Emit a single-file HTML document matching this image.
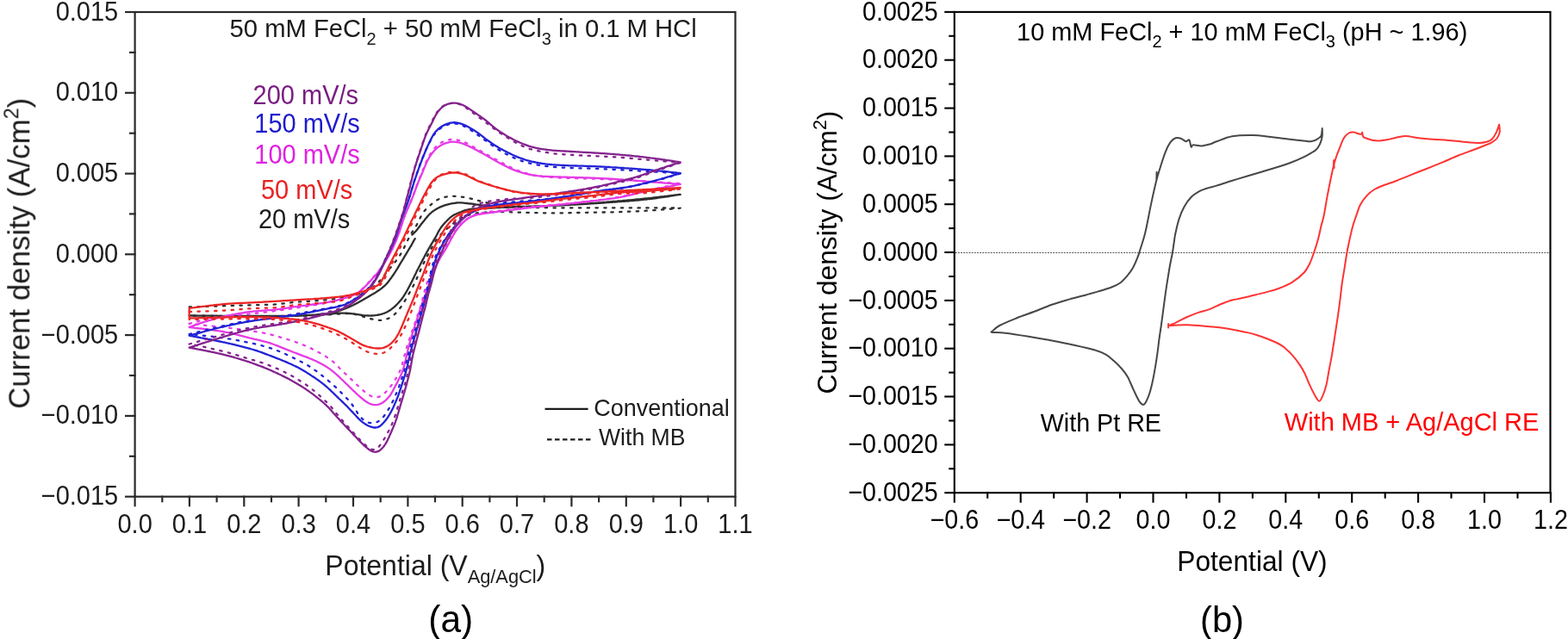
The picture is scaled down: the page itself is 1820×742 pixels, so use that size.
<!DOCTYPE html><html><head><meta charset="utf-8"><title>CV figure</title><style>
html,body{margin:0;padding:0;background:#fff;width:1820px;height:742px;overflow:hidden}
svg{display:block}
text{font-family:'Liberation Sans', Arial, Helvetica, sans-serif;fill:#1a1a1a}
</style></head><body>
<svg width="1820" height="742" viewBox="0 0 1820 742">
<rect width="1820" height="742" fill="#fff"/>
<defs><filter id="fa" filterUnits="userSpaceOnUse" x="0" y="0" width="910" height="742"><feGaussianBlur stdDeviation="0.45"/></filter></defs>
<g filter="url(#fa)">
<g stroke="#2a2a2a" stroke-width="2.2" fill="none" stroke-linecap="square">
<rect x="156.6" y="14.0" width="696.9" height="562.7"/>
<path d="M146.1,14.0H156.6"/>
<path d="M151.1,60.9H156.6"/>
<path d="M146.1,107.8H156.6"/>
<path d="M151.1,154.7H156.6"/>
<path d="M146.1,201.6H156.6"/>
<path d="M151.1,248.4H156.6"/>
<path d="M146.1,295.3H156.6"/>
<path d="M151.1,342.2H156.6"/>
<path d="M146.1,389.1H156.6"/>
<path d="M151.1,436.0H156.6"/>
<path d="M146.1,482.9H156.6"/>
<path d="M151.1,529.8H156.6"/>
<path d="M146.1,576.7H156.6"/>
<path d="M156.6,576.7V587.2"/>
<path d="M188.3,576.7V582.2"/>
<path d="M219.9,576.7V587.2"/>
<path d="M251.6,576.7V582.2"/>
<path d="M283.3,576.7V587.2"/>
<path d="M315.0,576.7V582.2"/>
<path d="M346.6,576.7V587.2"/>
<path d="M378.3,576.7V582.2"/>
<path d="M410.0,576.7V587.2"/>
<path d="M441.7,576.7V582.2"/>
<path d="M473.4,576.7V587.2"/>
<path d="M505.0,576.7V582.2"/>
<path d="M536.7,576.7V587.2"/>
<path d="M568.4,576.7V582.2"/>
<path d="M600.0,576.7V587.2"/>
<path d="M631.7,576.7V582.2"/>
<path d="M663.4,576.7V587.2"/>
<path d="M695.1,576.7V582.2"/>
<path d="M726.8,576.7V587.2"/>
<path d="M758.4,576.7V582.2"/>
<path d="M790.1,576.7V587.2"/>
<path d="M821.8,576.7V582.2"/>
<path d="M853.5,576.7V587.2"/>
</g>
<text transform="translate(137.2,23.5) scale(1,1.05)" font-size="29" text-anchor="end">0.015</text>
<text transform="translate(137.2,117.3) scale(1,1.05)" font-size="29" text-anchor="end">0.010</text>
<text transform="translate(137.2,211.1) scale(1,1.05)" font-size="29" text-anchor="end">0.005</text>
<text transform="translate(137.2,304.8) scale(1,1.05)" font-size="29" text-anchor="end">0.000</text>
<text transform="translate(137.2,398.6) scale(1,1.05)" font-size="29" text-anchor="end">−0.005</text>
<text transform="translate(137.2,492.4) scale(1,1.05)" font-size="29" text-anchor="end">−0.010</text>
<text transform="translate(137.2,586.2) scale(1,1.05)" font-size="29" text-anchor="end">−0.015</text>
<text transform="translate(156.6,619.2) scale(1,1.05)" font-size="29" text-anchor="middle">0.0</text>
<text transform="translate(219.9,619.2) scale(1,1.05)" font-size="29" text-anchor="middle">0.1</text>
<text transform="translate(283.3,619.2) scale(1,1.05)" font-size="29" text-anchor="middle">0.2</text>
<text transform="translate(346.6,619.2) scale(1,1.05)" font-size="29" text-anchor="middle">0.3</text>
<text transform="translate(410,619.2) scale(1,1.05)" font-size="29" text-anchor="middle">0.4</text>
<text transform="translate(473.4,619.2) scale(1,1.05)" font-size="29" text-anchor="middle">0.5</text>
<text transform="translate(536.7,619.2) scale(1,1.05)" font-size="29" text-anchor="middle">0.6</text>
<text transform="translate(600,619.2) scale(1,1.05)" font-size="29" text-anchor="middle">0.7</text>
<text transform="translate(663.4,619.2) scale(1,1.05)" font-size="29" text-anchor="middle">0.8</text>
<text transform="translate(726.8,619.2) scale(1,1.05)" font-size="29" text-anchor="middle">0.9</text>
<text transform="translate(790.1,619.2) scale(1,1.05)" font-size="29" text-anchor="middle">1.0</text>
<text transform="translate(853.5,619.2) scale(1,1.05)" font-size="29" text-anchor="middle">1.1</text>
<text transform="translate(266.6,43.3) scale(1,1.03)" font-size="29.2">50 mM FeCl<tspan font-size="20" dy="8.8">2</tspan><tspan dy="-8.8"> + 50 mM FeCl</tspan><tspan font-size="20" dy="8.8">3</tspan><tspan dy="-8.8"> in 0.1 M HCl</tspan></text>
<text transform="translate(377.3,668.2) scale(1,1.03)" font-size="32">Potential (V<tspan font-size="21.8" dy="8.1">Ag/AgCl</tspan><tspan dy="-8.1">)</tspan></text>
<text transform="translate(523.2,733.8) scale(1,1.03)" font-size="42.5" text-anchor="middle" style="fill:#000">(a)</text>
<text transform="translate(34.3,474.8) rotate(-90)" font-size="34.8">Current density (A/cm<tspan font-size="23.5" dy="-13">2</tspan><tspan dy="13">)</tspan></text>
<text transform="translate(293.6,120.8) scale(1,1.05)" font-size="29" style="fill:#7a1e82">200 mV/s</text>
<text transform="translate(295.3,154) scale(1,1.05)" font-size="29" style="fill:#1a1acd">150 mV/s</text>
<text transform="translate(295.3,190.4) scale(1,1.05)" font-size="29" style="fill:#e020e0">100 mV/s</text>
<text transform="translate(303,230.8) scale(1,1.05)" font-size="29" style="fill:#e82020">50 mV/s</text>
<text transform="translate(299.9,265.3) scale(1,1.05)" font-size="29" style="fill:#1a1a1a">20 mV/s</text>
<path d="M632.5,474.8H682.6" stroke="#1e1e1e" stroke-width="2.2"/>
<path d="M635,510.4H687" stroke="#1e1e1e" stroke-width="2.2" stroke-dasharray="5.5 3.5"/>
<text transform="translate(689.3,483) scale(1,1.03)" font-size="27">Conventional</text>
<text transform="translate(695,517.2) scale(1,1.03)" font-size="26.6">With MB</text>
</g>
<line x1="1108.8" y1="293.5" x2="1799.5" y2="293.5" stroke="#505050" stroke-width="1.1" stroke-dasharray="1.9 1.25"/>
<g stroke="#000" stroke-width="2.1" fill="none" stroke-linecap="square">
<rect x="1107.8" y="13.9" width="691.7" height="558.3"/>
<path d="M1097.3,13.9H1107.8"/>
<path d="M1102.3,41.8H1107.8"/>
<path d="M1097.3,69.7H1107.8"/>
<path d="M1102.3,97.6H1107.8"/>
<path d="M1097.3,125.6H1107.8"/>
<path d="M1102.3,153.5H1107.8"/>
<path d="M1097.3,181.4H1107.8"/>
<path d="M1102.3,209.3H1107.8"/>
<path d="M1097.3,237.2H1107.8"/>
<path d="M1102.3,265.1H1107.8"/>
<path d="M1097.3,293.0H1107.8"/>
<path d="M1102.3,321.0H1107.8"/>
<path d="M1097.3,348.9H1107.8"/>
<path d="M1102.3,376.8H1107.8"/>
<path d="M1097.3,404.7H1107.8"/>
<path d="M1102.3,432.6H1107.8"/>
<path d="M1097.3,460.5H1107.8"/>
<path d="M1102.3,488.5H1107.8"/>
<path d="M1097.3,516.4H1107.8"/>
<path d="M1102.3,544.3H1107.8"/>
<path d="M1097.3,572.2H1107.8"/>
<path d="M1107.8,572.2V582.7"/>
<path d="M1146.2,572.2V577.7"/>
<path d="M1184.7,572.2V582.7"/>
<path d="M1223.2,572.2V577.7"/>
<path d="M1261.6,572.2V582.7"/>
<path d="M1300.0,572.2V577.7"/>
<path d="M1338.5,572.2V582.7"/>
<path d="M1377.0,572.2V577.7"/>
<path d="M1415.4,572.2V582.7"/>
<path d="M1453.9,572.2V577.7"/>
<path d="M1492.3,572.2V582.7"/>
<path d="M1530.8,572.2V577.7"/>
<path d="M1569.2,572.2V582.7"/>
<path d="M1607.7,572.2V577.7"/>
<path d="M1646.1,572.2V582.7"/>
<path d="M1684.5,572.2V577.7"/>
<path d="M1723.0,572.2V582.7"/>
<path d="M1761.5,572.2V577.7"/>
<path d="M1799.9,572.2V582.7"/>
</g>
<text transform="translate(1088.7,23.5) scale(1,1.08)" font-size="28.7" text-anchor="end" style="fill:#000">0.0025</text>
<text transform="translate(1088.7,79.3) scale(1,1.08)" font-size="28.7" text-anchor="end" style="fill:#000">0.0020</text>
<text transform="translate(1088.7,135.2) scale(1,1.08)" font-size="28.7" text-anchor="end" style="fill:#000">0.0015</text>
<text transform="translate(1088.7,191) scale(1,1.08)" font-size="28.7" text-anchor="end" style="fill:#000">0.0010</text>
<text transform="translate(1088.7,246.8) scale(1,1.08)" font-size="28.7" text-anchor="end" style="fill:#000">0.0005</text>
<text transform="translate(1088.7,302.6) scale(1,1.08)" font-size="28.7" text-anchor="end" style="fill:#000">0.0000</text>
<text transform="translate(1088.7,358.5) scale(1,1.08)" font-size="28.7" text-anchor="end" style="fill:#000">−0.0005</text>
<text transform="translate(1088.7,414.3) scale(1,1.08)" font-size="28.7" text-anchor="end" style="fill:#000">−0.0010</text>
<text transform="translate(1088.7,470.1) scale(1,1.08)" font-size="28.7" text-anchor="end" style="fill:#000">−0.0015</text>
<text transform="translate(1088.7,526) scale(1,1.08)" font-size="28.7" text-anchor="end" style="fill:#000">−0.0020</text>
<text transform="translate(1088.7,581.8) scale(1,1.08)" font-size="28.7" text-anchor="end" style="fill:#000">−0.0025</text>
<text transform="translate(1107.8,613.9) scale(1,1.08)" font-size="28.7" text-anchor="middle" style="fill:#000">−0.6</text>
<text transform="translate(1184.7,613.9) scale(1,1.08)" font-size="28.7" text-anchor="middle" style="fill:#000">−0.4</text>
<text transform="translate(1261.6,613.9) scale(1,1.08)" font-size="28.7" text-anchor="middle" style="fill:#000">−0.2</text>
<text transform="translate(1338.5,613.9) scale(1,1.08)" font-size="28.7" text-anchor="middle" style="fill:#000">0.0</text>
<text transform="translate(1415.4,613.9) scale(1,1.08)" font-size="28.7" text-anchor="middle" style="fill:#000">0.2</text>
<text transform="translate(1492.3,613.9) scale(1,1.08)" font-size="28.7" text-anchor="middle" style="fill:#000">0.4</text>
<text transform="translate(1569.2,613.9) scale(1,1.08)" font-size="28.7" text-anchor="middle" style="fill:#000">0.6</text>
<text transform="translate(1646.1,613.9) scale(1,1.08)" font-size="28.7" text-anchor="middle" style="fill:#000">0.8</text>
<text transform="translate(1723,613.9) scale(1,1.08)" font-size="28.7" text-anchor="middle" style="fill:#000">1.0</text>
<text transform="translate(1799.9,613.9) scale(1,1.08)" font-size="28.7" text-anchor="middle" style="fill:#000">1.2</text>
<text transform="translate(1180.1,46.6) scale(1,1.03)" font-size="28.9" style="fill:#000">10 mM FeCl<tspan font-size="20" dy="8.3">2</tspan><tspan dy="-8.3"> + 10 mM FeCl</tspan><tspan font-size="20" dy="8.3">3</tspan><tspan dy="-8.3"> (pH ~ 1.96)</tspan></text>
<text transform="translate(1366.3,663.1) scale(1,1.03)" font-size="31.7" style="fill:#000">Potential (V)</text>
<text transform="translate(1418.5,733.7) scale(1,1.03)" font-size="41.7" text-anchor="middle" style="fill:#000">(b)</text>
<text transform="translate(971.3,457.5) rotate(-90)" font-size="31.7" style="fill:#000">Current density (A/cm<tspan font-size="21.5" dy="-12">2</tspan><tspan dy="12">)</tspan></text>
<text transform="translate(1207.7,501.2) scale(1,1.03)" font-size="28.7" style="fill:#000">With Pt RE</text>
<text transform="translate(1490.8,499.6) scale(1,1.03)" font-size="29" style="fill:#ff0000">With MB + Ag/AgCl RE</text>
<g filter="url(#fa)"><g fill="none" stroke-width="2.3" stroke-linejoin="round" stroke-linecap="round">
<path d="M219.7,366.5L221.7,366.5 223.7,366.5 225.7,366.5 227.7,366.6 229.7,366.6 231.7,366.6 233.7,366.6 235.7,366.6 237.7,366.6 239.7,366.7 241.7,366.7 243.7,366.7 245.7,366.7 247.7,366.7 249.7,366.7 251.7,366.7 253.7,366.8 255.7,366.8 257.7,366.8 259.7,366.8 261.7,366.8 263.7,366.8 265.7,366.8 267.7,366.9 269.8,366.9 271.8,366.9 273.8,366.9 275.8,366.9 277.8,366.9 279.8,367 281.8,367 283.8,367 285.8,367 287.8,367 289.8,367 291.8,367 293.8,367 295.8,367 297.8,367 299.8,367 301.8,367 303.8,367 305.8,367 307.8,367 309.8,367 311.8,367 313.8,367 315.8,367 317.8,367 319.8,366.9 321.8,366.9 323.8,366.9 325.8,366.9 327.8,366.9 329.8,366.9 331.8,366.9 333.8,366.8 335.8,366.8 337.8,366.8 339.8,366.8 341.8,366.7 343.8,366.7 345.8,366.6 347.8,366.6 349.8,366.5 351.8,366.4 353.8,366.3 355.8,366.2 357.8,366.1 359.8,366 361.8,365.9 363.8,365.7 365.8,365.6 367.8,365.4 369.8,365.2 371.8,365 373.8,364.8 375.8,364.5 377.8,364.3 379.7,364 381.7,363.7 383.7,363.3 385.6,362.9 387.6,362.5 389.5,362 391.5,361.5 393.4,360.9 395.3,360.3 397.2,359.7 399.1,359 400.9,358.3 402.8,357.5 404.6,356.7 406.4,355.9 408.3,355 410.1,354.2 411.9,353.3 413.6,352.4 415.4,351.5 417.2,350.5 418.9,349.6 420.7,348.6 422.4,347.6 424.1,346.6 425.9,345.6 427.6,344.5 429.3,343.5 431,342.5 432.7,341.4 434.5,340.4 436.2,339.4 437.9,338.3 439.5,337.2 441.2,336.1 442.8,334.9 444.3,333.6 445.8,332.3 447.3,331 448.7,329.5 450,328 451.2,326.5 452.4,324.9 453.6,323.3 454.8,321.6 455.9,320 457.1,318.3 458.2,316.7 459.2,315 460.3,313.3 461.4,311.6 462.4,309.9 463.4,308.2 464.4,306.4 465.5,304.7 466.5,303 467.5,301.3 468.6,299.6 469.6,297.8 470.6,296.1 471.7,294.4 472.7,292.7 473.7,291 474.7,289.3 475.8,287.5 476.8,285.8 477.8,284.1 478.8,282.3 479.7,280.6 480.7,278.8 481.7,277.1 M478.3,272.6L479.8,271.3 481.2,269.9 482.6,268.5 483.9,267 485.1,265.4 486.3,263.8 487.5,262.2 488.7,260.6 490,259 491.2,257.5 492.5,255.9 493.7,254.3 495,252.8 496.3,251.3 497.6,249.8 499,248.3 500.5,247 502,245.7 503.6,244.6 505.3,243.5 507,242.5 508.8,241.5 510.6,240.6 512.4,239.8 514.3,239.1 516.2,238.4 518.1,237.8 520,237.3 522,236.8 523.9,236.4 525.9,236.1 527.9,235.8 529.9,235.5 531.8,235.4 533.8,235.4 535.8,235.4 537.8,235.6 539.8,235.8 541.8,236 543.8,236.3 545.8,236.5 547.8,236.7 549.8,237 551.7,237.3 553.7,237.6 555.7,237.9 557.7,238.2 559.7,238.4 561.7,238.6 563.7,238.8 565.7,238.9 567.7,239 569.7,239.1 571.7,239.2 573.7,239.3 575.7,239.3 577.7,239.4 579.7,239.5 581.7,239.6 583.7,239.7 585.7,239.8 587.7,239.8 589.7,239.9 591.7,240 593.7,240 595.7,240 597.7,240 599.7,240 601.8,240 603.8,239.9 605.8,239.9 607.8,239.9 609.8,239.8 611.8,239.8 613.8,239.7 615.8,239.7 617.8,239.6 619.8,239.6 621.8,239.5 623.8,239.5 625.8,239.4 627.8,239.4 629.8,239.3 631.8,239.2 633.8,239.2 635.8,239.1 637.9,239 639.9,238.9 641.9,238.9 643.9,238.8 645.9,238.7 647.9,238.6 649.9,238.5 651.9,238.4 653.9,238.3 655.9,238.2 657.9,238.1 659.9,237.9 661.9,237.8 663.9,237.7 665.9,237.6 667.9,237.4 669.9,237.3 671.9,237.2 673.9,237 675.9,236.9 677.9,236.7 679.9,236.6 681.9,236.4 683.9,236.3 685.9,236.1 687.9,236 689.9,235.8 691.9,235.6 693.9,235.5 695.9,235.3 697.9,235.2 699.9,235 701.9,234.8 703.9,234.7 705.9,234.5 707.9,234.4 709.9,234.2 711.9,234 713.9,233.8 715.9,233.7 717.9,233.5 719.9,233.3 721.9,233.2 723.9,233 725.9,232.8 727.9,232.6 729.9,232.4 731.9,232.3 733.9,232.1 735.9,231.9 737.9,231.7 739.9,231.5 741.9,231.3 743.9,231.1 745.9,230.9 747.9,230.7 749.9,230.5 751.9,230.3 753.8,230.1 755.8,229.9 757.8,229.6 759.8,229.4 761.8,229.2 763.8,229 765.8,228.7 767.8,228.5 769.8,228.3 771.8,228 773.8,227.8 775.8,227.5 777.8,227.3 779.7,227 781.7,226.8 783.7,226.5 785.7,226.3 787.7,226 789.7,225.8 L787.7,226.1 785.7,226.4 783.8,226.7 781.8,227 779.8,227.3 777.8,227.6 775.9,228 773.9,228.3 771.9,228.6 769.9,228.9 767.9,229.1 766,229.4 764,229.7 762,230 760,230.3 758,230.5 756,230.8 754,231 752.1,231.2 750.1,231.5 748.1,231.7 746.1,231.9 744.1,232.1 742.1,232.3 740.1,232.5 738.1,232.6 736.1,232.8 734.1,233 732.1,233.1 730.1,233.3 728.1,233.5 726.1,233.6 724.2,233.8 722.2,233.9 720.2,234.1 718.2,234.2 716.2,234.4 714.2,234.5 712.2,234.6 710.2,234.8 708.2,234.9 706.2,235.1 704.2,235.2 702.2,235.3 700.2,235.5 698.2,235.6 696.2,235.8 694.2,235.9 692.2,236 690.2,236.2 688.2,236.3 686.2,236.4 684.2,236.5 682.2,236.7 680.2,236.8 678.2,236.9 676.2,237 674.2,237.2 672.2,237.3 670.2,237.4 668.2,237.5 666.2,237.6 664.2,237.7 662.2,237.8 660.2,238 658.2,238.1 656.2,238.2 654.2,238.3 652.2,238.4 650.2,238.5 648.2,238.6 646.2,238.7 644.2,238.7 642.2,238.8 640.2,238.9 638.2,239 636.2,239 634.2,239.1 632.2,239.1 630.2,239.2 628.2,239.3 626.2,239.3 624.2,239.4 622.2,239.4 620.2,239.5 618.2,239.6 616.2,239.7 614.2,239.8 612.2,239.9 610.2,240 608.2,240.1 606.2,240.2 604.2,240.3 602.2,240.4 600.2,240.5 598.2,240.5 596.2,240.6 594.2,240.7 592.2,240.7 590.2,240.7 588.2,240.8 586.2,240.8 584.2,240.9 582.2,240.9 580.2,241 578.2,241.1 576.2,241.2 574.2,241.3 572.2,241.4 570.2,241.5 568.2,241.6 566.2,241.7 564.2,241.8 562.2,241.9 560.2,242 558.2,242.1 556.2,242.1 554.2,242.2 552.2,242.3 550.2,242.4 548.2,242.6 546.3,242.9 544.3,243.2 542.4,243.6 540.4,244.1 538.5,244.7 536.7,245.4 534.8,246.2 533,246.9 531.1,247.7 529.3,248.5 527.5,249.3 525.8,250.3 524.2,251.4 522.6,252.6 521.1,254 519.7,255.3 518.3,256.8 516.9,258.2 515.5,259.7 514.2,261.2 513,262.7 511.8,264.3 510.7,266 509.7,267.7 508.7,269.4 507.8,271.2 506.9,273 505.9,274.8 504.9,276.5 503.9,278.2 502.9,279.9 501.9,281.7 500.8,283.4 499.8,285.1 498.8,286.8 497.8,288.5 496.8,290.3 495.8,292 494.9,293.8 493.9,295.6 493,297.3 492.1,299.1 491.1,300.9 490.2,302.6 489.3,304.4 488.3,306.2 487.4,308 486.5,309.7 485.6,311.5 484.6,313.3 483.7,315.1 482.9,316.9 482,318.7 481.1,320.5 480.3,322.3 479.4,324.1 478.5,325.9 477.6,327.7 476.7,329.5 475.8,331.3 474.9,333 473.9,334.8 473,336.5 472,338.3 471,340 470,341.7 468.9,343.4 467.8,345.1 466.6,346.7 465.4,348.3 464.1,349.8 462.8,351.3 461.4,352.8 460,354.2 458.6,355.6 457.1,356.9 455.5,358.2 454,359.4 452.3,360.5 450.6,361.6 448.9,362.5 447.1,363.3 445.2,364 443.3,364.6 441.4,365.1 439.4,365.5 437.5,365.9 435.5,366.2 433.5,366.4 431.5,366.5 429.5,366.6 427.5,366.5 425.5,366.4 423.5,366.3 421.6,366.1 419.6,365.8 417.6,365.5 415.6,365.2 413.7,364.8 411.7,364.6 409.7,364.3 407.7,364.1 405.7,364 403.7,363.9 401.7,363.7 399.7,363.7 397.7,363.6 395.7,363.6 393.7,363.6 391.7,363.7 389.7,363.8 387.7,364 385.8,364.3 383.8,364.5 381.8,364.8 379.8,365 377.8,365.1 375.8,365.3 373.8,365.4 371.8,365.5 369.8,365.7 367.8,365.8 365.8,365.9 363.8,366 361.8,366.1 359.8,366.2 357.8,366.2 355.8,366.3 353.8,366.4 351.8,366.4 349.8,366.5 347.8,366.5 345.8,366.6 343.8,366.6 341.8,366.7 339.8,366.7 337.8,366.7 335.8,366.7 333.8,366.8 331.8,366.8 329.8,366.8 327.8,366.8 325.8,366.9 323.8,366.9 321.8,366.9 319.8,366.9 317.8,366.9 315.8,366.9 313.8,366.9 311.8,366.9 309.8,367 307.8,367 305.8,367 303.8,367 301.8,367 299.8,367 297.8,367 295.8,367 293.8,367 291.8,367 289.8,367 287.8,367 285.8,367 283.8,367 281.8,367 279.8,367 277.8,366.9 275.7,366.9 273.7,366.9 271.7,366.9 269.7,366.9 267.7,366.9 265.7,366.8 263.7,366.8 261.7,366.8 259.7,366.8 257.7,366.8 255.7,366.8 253.7,366.8 251.7,366.7 249.7,366.7 247.7,366.7 245.7,366.7 243.7,366.7 241.7,366.7 239.7,366.7 237.7,366.6 235.7,366.6 233.7,366.6 231.7,366.6 229.7,366.6 227.7,366.6 225.7,366.5 223.7,366.5 221.7,366.5 219.7,366.5" stroke="#2e2e2e"/>
<path d="M219.7,356.5L221.7,356.4 223.7,356.4 225.7,356.3 227.7,356.2 229.7,356.2 231.7,356.1 233.7,356 235.7,356 237.7,355.9 239.7,355.8 241.7,355.8 243.7,355.7 245.7,355.7 247.7,355.6 249.7,355.5 251.7,355.5 253.7,355.4 255.7,355.3 257.7,355.3 259.7,355.2 261.7,355.1 263.7,355.1 265.7,355 267.7,355 269.7,354.9 271.7,354.8 273.7,354.8 275.7,354.7 277.8,354.7 279.8,354.6 281.8,354.5 283.8,354.5 285.8,354.4 287.8,354.4 289.8,354.3 291.8,354.3 293.8,354.2 295.8,354.2 297.8,354.1 299.8,354.1 301.8,354.1 303.8,354 305.8,354 307.8,353.9 309.8,353.9 311.8,353.8 313.8,353.8 315.8,353.7 317.8,353.6 319.8,353.4 321.8,353.3 323.8,353.1 325.8,352.9 327.7,352.6 329.7,352.3 331.7,352 333.7,351.8 335.7,351.5 337.7,351.3 339.7,351.1 341.7,350.9 343.7,350.7 345.6,350.6 347.6,350.4 349.6,350.3 351.6,350.2 353.6,350.1 355.6,349.9 357.6,349.8 359.6,349.7 361.6,349.6 363.6,349.4 365.6,349.3 367.6,349.2 369.6,349 371.6,348.9 373.6,348.7 375.6,348.5 377.6,348.3 379.6,348.1 381.6,347.9 383.6,347.6 385.6,347.4 387.5,347.1 389.5,346.8 391.5,346.5 393.5,346.2 395.5,345.8 397.4,345.5 399.4,345.1 401.4,344.8 403.3,344.4 405.3,344 407.3,343.6 409.2,343.1 411.2,342.7 413.1,342.2 415,341.6 416.9,341 418.8,340.4 420.7,339.7 422.6,339 424.4,338.2 426.2,337.3 428,336.4 429.7,335.5 431.4,334.4 433.1,333.3 434.7,332.1 436.2,330.8 437.7,329.5 439.1,328.1 440.4,326.6 441.7,325.1 443,323.5 444.3,322 445.6,320.4 446.8,318.9 448,317.3 449.3,315.7 450.5,314.2 451.8,312.6 453,311 454.3,309.5 455.6,307.9 456.8,306.4 458.1,304.8 459.4,303.3 460.6,301.7 461.8,300.1 462.9,298.4 464,296.8 465,295.1 466,293.3 467,291.6 467.9,289.8 468.8,288 469.7,286.2 470.6,284.4 471.4,282.6 472.3,280.8 473.2,279 474.1,277.2 475,275.4 475.9,273.7 476.9,271.9 478,270.2 479,268.5 480.1,266.9 481.2,265.2 482.3,263.5 483.3,261.8 484.3,260 485.3,258.3 486.1,256.5 487,254.7 487.8,252.9 488.7,251.1 489.7,249.3 490.7,247.6 491.8,246 493.1,244.4 494.4,243 495.8,241.6 497.3,240.2 498.8,238.9 500.3,237.6 501.8,236.3 503.3,235 504.9,233.8 506.6,232.7 508.3,231.7 510.1,230.9 511.9,230.2 513.8,229.6 515.8,229.1 517.7,228.6 519.7,228.3 521.7,228 523.6,227.8 525.6,227.8 527.6,227.8 529.6,227.9 531.6,228.1 533.6,228.3 535.6,228.5 537.6,228.8 539.5,229.1 541.5,229.4 543.5,229.8 545.4,230.3 547.4,230.8 549.3,231.3 551.2,231.8 553.2,232.4 555.1,232.9 557,233.4 559,233.9 560.9,234.4 562.8,234.9 564.8,235.3 566.8,235.8 568.7,236.2 570.7,236.6 572.6,237 574.6,237.4 576.6,237.7 578.5,238 580.5,238.3 582.5,238.6 584.5,238.9 586.5,239.1 588.5,239.3 590.5,239.5 592.5,239.7 594.5,239.8 596.5,240 598.5,240.1 600.5,240.2 602.5,240.3 604.5,240.4 606.5,240.5 608.5,240.6 610.5,240.7 612.5,240.8 614.5,240.8 616.5,240.9 618.5,241 620.5,241 622.5,241 624.5,241.1 626.5,241.1 628.5,241.1 630.5,241.2 632.5,241.2 634.5,241.2 636.5,241.2 638.5,241.2 640.5,241.3 642.5,241.3 644.5,241.3 646.5,241.3 648.5,241.3 650.5,241.3 652.5,241.3 654.5,241.3 656.5,241.3 658.5,241.3 660.5,241.3 662.5,241.3 664.5,241.3 666.5,241.3 668.5,241.3 670.5,241.3 672.5,241.3 674.5,241.3 676.5,241.3 678.5,241.3 680.5,241.3 682.6,241.3 684.6,241.3 686.6,241.3 688.6,241.3 690.6,241.3 692.6,241.3 694.6,241.3 696.6,241.3 698.6,241.3 700.6,241.3 702.6,241.3 704.6,241.3 706.6,241.3 708.6,241.3 710.6,241.3 712.6,241.3 714.6,241.3 716.6,241.3 718.6,241.3 720.6,241.3 722.6,241.3 724.6,241.3 726.6,241.3 728.6,241.3 730.6,241.3 732.6,241.3 734.6,241.3 736.6,241.4 738.6,241.4 740.6,241.4 742.6,241.4 744.6,241.4 746.6,241.4 748.6,241.4 750.6,241.4 752.6,241.4 754.7,241.4 756.7,241.4 758.7,241.4 760.7,241.4 762.7,241.4 764.7,241.4 766.7,241.4 768.7,241.5 770.7,241.5 772.7,241.5 774.7,241.5 776.7,241.5 778.7,241.5 780.7,241.5 782.7,241.5 784.7,241.6 786.7,241.6 788.7,241.6 789.7,241.6 L787.7,241.8 785.7,241.9 783.7,242.1 781.7,242.3 779.7,242.5 777.7,242.7 775.7,242.8 773.7,243 771.8,243.2 769.8,243.3 767.8,243.5 765.8,243.7 763.8,243.8 761.8,244 759.8,244.1 757.8,244.2 755.8,244.4 753.8,244.5 751.8,244.6 749.8,244.7 747.8,244.9 745.8,245 743.8,245.1 741.8,245.2 739.8,245.3 737.8,245.4 735.8,245.5 733.8,245.6 731.8,245.6 729.8,245.7 727.8,245.8 725.8,245.9 723.8,246 721.8,246 719.8,246.1 717.8,246.2 715.8,246.2 713.8,246.3 711.8,246.3 709.8,246.4 707.8,246.4 705.8,246.4 703.8,246.5 701.8,246.5 699.8,246.5 697.8,246.5 695.8,246.6 693.8,246.6 691.8,246.6 689.8,246.7 687.8,246.7 685.8,246.7 683.8,246.7 681.8,246.8 679.8,246.8 677.8,246.8 675.8,246.9 673.8,246.9 671.8,247 669.8,247 667.8,247.1 665.8,247.1 663.8,247.2 661.8,247.2 659.8,247.3 657.8,247.3 655.8,247.3 653.8,247.4 651.8,247.4 649.8,247.4 647.8,247.4 645.8,247.4 643.8,247.4 641.8,247.4 639.8,247.4 637.8,247.4 635.8,247.3 633.8,247.3 631.8,247.3 629.8,247.3 627.8,247.2 625.8,247.2 623.8,247.2 621.8,247.1 619.8,247.1 617.8,247 615.8,247 613.8,246.9 611.8,246.9 609.7,246.8 607.7,246.8 605.7,246.7 603.7,246.6 601.7,246.6 599.7,246.5 597.7,246.4 595.7,246.4 593.7,246.3 591.7,246.2 589.7,246.2 587.7,246.1 585.7,246.1 583.7,246 581.7,246 579.7,246 577.7,246.1 575.7,246.1 573.7,246.2 571.7,246.2 569.7,246.3 567.7,246.4 565.7,246.5 563.7,246.6 561.7,246.7 559.8,246.9 557.8,247 555.8,247.2 553.8,247.5 551.8,247.8 549.9,248.2 547.9,248.6 546,249.2 544.1,249.7 542.2,250.4 540.3,251.1 538.5,251.9 536.7,252.7 534.9,253.6 533.1,254.6 531.4,255.6 529.8,256.7 528.2,257.9 526.6,259.1 525,260.4 523.5,261.6 521.9,262.9 520.4,264.2 518.9,265.5 517.4,266.8 515.9,268.2 514.4,269.5 513,270.9 511.5,272.3 510.2,273.8 508.9,275.3 507.7,276.8 506.5,278.5 505.4,280.1 504.4,281.9 503.4,283.6 502.4,285.3 501.5,287.1 500.5,288.8 499.5,290.6 498.6,292.3 497.6,294.1 496.7,295.9 495.7,297.6 494.8,299.4 493.9,301.2 493.1,303 492.2,304.8 491.4,306.6 490.5,308.4 489.7,310.3 488.8,312.1 488,313.9 487.2,315.7 486.4,317.6 485.5,319.4 484.7,321.2 483.9,323 483.1,324.9 482.2,326.7 481.4,328.5 480.5,330.3 479.6,332.1 478.7,333.8 477.7,335.6 476.8,337.3 475.8,339.1 474.8,340.8 473.8,342.6 472.8,344.3 471.8,346.1 470.8,347.8 469.8,349.5 468.8,351.2 467.7,352.9 466.6,354.6 465.5,356.2 464.3,357.8 463,359.4 461.8,360.9 460.5,362.5 459.1,363.9 457.7,365.3 456.3,366.6 454.7,367.7 453,368.7 451.2,369.6 449.3,370.3 447.5,370.9 445.5,371.4 443.6,371.7 441.6,371.9 439.7,371.8 437.7,371.7 435.7,371.4 433.8,371 431.8,370.5 429.9,370.1 427.9,369.5 426,369 424.1,368.4 422.2,367.8 420.3,367.2 418.4,366.6 416.5,366 414.5,365.5 412.6,365 410.7,364.6 408.7,364.3 406.7,364.1 404.7,364 402.7,364 400.7,364.1 398.7,364.2 396.7,364.3 394.8,364.5 392.8,364.6 390.8,364.8 388.8,364.9 386.8,365.1 384.8,365.2 382.8,365.3 380.8,365.4 378.8,365.6 376.8,365.7 374.8,365.8 372.8,365.9 370.8,366 368.8,366.1 366.8,366.2 364.8,366.3 362.8,366.4 360.8,366.5 358.8,366.5 356.8,366.6 354.8,366.7 352.8,366.7 350.8,366.8 348.8,366.8 346.8,366.9 344.8,366.9 342.8,366.9 340.8,366.9 338.8,367 336.8,367 334.8,367 332.8,367 330.8,367.1 328.8,367.1 326.8,367.1 324.8,367.1 322.8,367.1 320.8,367.1 318.8,367.1 316.8,367.1 314.8,367.2 312.8,367.2 310.8,367.2 308.8,367.2 306.8,367.2 304.8,367.2 302.8,367.2 300.8,367.2 298.8,367.2 296.8,367.2 294.7,367.2 292.7,367.2 290.7,367.2 288.7,367.2 286.7,367.2 284.7,367.2 282.7,367.2 280.7,367.2 278.7,367.1 276.7,367.1 274.7,367.1 272.7,367.1 270.7,367.1 268.7,367.1 266.7,367.1 264.7,367 262.7,367 260.7,367 258.7,367 256.7,367 254.7,366.9 252.7,366.9 250.7,366.9 248.7,366.9 246.7,366.9 244.7,366.8 242.7,366.8 240.7,366.8 238.7,366.8 236.7,366.7 234.7,366.7 232.7,366.7 230.7,366.6 228.7,366.6 226.7,366.6 224.7,366.6 222.7,366.5 220.7,366.5 219.7,366.5" stroke="#2e2e2e" stroke-dasharray="2.4 7.4"/>
<path d="M219.7,380L221.6,379.3 223.4,378.6 225.3,377.9 227.2,377.2 229.1,376.5 231,375.9 232.9,375.2 234.8,374.6 236.7,374 238.6,373.4 240.5,372.8 242.4,372.2 244.3,371.7 246.3,371.1 248.2,370.6 250.1,370 252,369.5 254,369 255.9,368.5 257.9,368 259.8,367.6 261.8,367.1 263.7,366.7 265.7,366.3 267.6,365.9 269.6,365.5 271.6,365.1 273.5,364.7 275.5,364.3 277.5,364 279.4,363.6 281.4,363.3 283.4,363 285.4,362.7 287.3,362.4 289.3,362.1 291.3,361.9 293.3,361.7 295.3,361.4 297.3,361.3 299.3,361.1 301.3,360.9 303.3,360.8 305.3,360.6 307.3,360.5 309.3,360.4 311.3,360.2 313.3,360.1 315.2,359.9 317.2,359.7 319.2,359.5 321.2,359.3 323.2,359.1 325.2,358.8 327.2,358.5 329.2,358.3 331.1,358 333.1,357.7 335.1,357.3 337.1,357 339,356.7 341,356.4 343,356.1 345,355.9 347,355.6 349,355.3 350.9,355.1 352.9,354.8 354.9,354.6 356.9,354.3 358.9,354 360.9,353.8 362.9,353.5 364.8,353.3 366.8,353 368.8,352.7 370.8,352.4 372.8,352.1 374.7,351.8 376.7,351.5 378.7,351.2 380.7,350.8 382.6,350.5 384.6,350.1 386.5,349.7 388.5,349.2 390.5,348.8 392.4,348.3 394.3,347.8 396.3,347.3 398.2,346.8 400.1,346.2 402,345.6 404,345 405.8,344.4 407.7,343.7 409.6,343 411.4,342.2 413.2,341.2 414.9,340.2 416.5,339.1 418.1,337.9 419.7,336.7 421.1,335.3 422.6,334 424,332.5 425.4,331.1 426.8,329.7 428.1,328.2 429.4,326.7 430.8,325.2 432.1,323.7 433.4,322.2 434.8,320.7 436.1,319.2 437.5,317.7 438.8,316.2 440,314.7 441.2,313.1 442.4,311.5 443.5,309.8 444.6,308.1 445.6,306.4 446.7,304.7 447.7,303 448.7,301.3 449.7,299.6 450.7,297.8 451.7,296.1 452.7,294.3 453.6,292.6 454.5,290.8 455.4,289 456.3,287.2 457.1,285.3 457.9,283.5 458.7,281.7 459.5,279.8 460.3,278 461,276.1 461.7,274.3 462.4,272.4 463.1,270.5 463.8,268.6 464.4,266.7 465,264.8 465.7,262.9 466.3,261 466.9,259.1 467.5,257.2 468.2,255.3 468.8,253.4 469.5,251.5 470.2,249.7 470.9,247.8 471.7,246 472.5,244.1 473.3,242.3 474.1,240.5 474.9,238.6 475.7,236.8 476.5,235 477.3,233.1 478,231.3 478.8,229.4 479.5,227.5 480.2,225.7 480.9,223.8 481.6,221.9 482.3,220 483,218.2 483.7,216.3 484.4,214.4 485.1,212.5 485.8,210.7 486.6,208.8 487.4,207 488.2,205.2 489,203.3 489.8,201.5 490.6,199.6 491.3,197.8 492.1,195.9 492.8,194.1 493.6,192.2 494.4,190.4 495.2,188.6 496.1,186.8 497,185 498,183.3 499.1,181.6 500.2,179.9 501.3,178.3 502.5,176.7 503.8,175.2 505.2,173.8 506.7,172.4 508.2,171.2 509.8,170 511.5,169 513.2,168 515,167.1 516.9,166.4 518.8,165.8 520.7,165.3 522.6,164.9 524.6,164.7 526.6,164.7 528.6,164.8 530.5,165 532.5,165.4 534.4,165.9 536.3,166.5 538.2,167.1 540,167.9 541.9,168.7 543.7,169.5 545.5,170.4 547.3,171.3 549.1,172.2 550.8,173.1 552.6,174 554.4,174.9 556.1,175.9 557.9,176.9 559.7,177.8 561.4,178.8 563.1,179.8 564.9,180.8 566.6,181.8 568.3,182.8 570.1,183.8 571.8,184.8 573.6,185.8 575.3,186.8 577,187.7 578.8,188.7 580.6,189.7 582.3,190.6 584.1,191.5 585.9,192.4 587.7,193.3 589.5,194.2 591.3,195.1 593.1,195.9 594.9,196.7 596.8,197.4 598.6,198.2 600.5,198.8 602.4,199.4 604.3,200 606.3,200.6 608.2,201.1 610.1,201.6 612.1,202.1 614,202.5 616,202.9 618,203.3 619.9,203.6 621.9,203.9 623.9,204.2 625.9,204.4 627.9,204.5 629.9,204.7 631.9,204.8 633.9,204.9 635.9,205 637.9,205.1 639.9,205.1 641.9,205.2 643.9,205.3 645.9,205.4 647.9,205.4 649.9,205.5 651.9,205.6 653.9,205.6 655.9,205.7 657.9,205.7 659.9,205.8 661.9,205.8 663.9,205.9 665.9,205.9 667.9,206 669.9,206.1 671.9,206.1 673.9,206.2 675.9,206.2 677.9,206.3 679.9,206.4 681.9,206.4 683.9,206.5 685.9,206.6 687.9,206.7 689.9,206.7 691.9,206.8 693.9,206.9 695.9,207 697.9,207.1 699.9,207.2 701.9,207.3 703.9,207.4 705.9,207.5 707.9,207.6 709.9,207.7 711.9,207.9 713.9,208 715.9,208.1 717.9,208.3 719.9,208.4 721.9,208.5 723.9,208.7 725.8,208.8 727.8,209 729.8,209.1 731.8,209.3 733.8,209.4 735.8,209.6 737.8,209.7 739.8,209.9 741.8,210.1 743.8,210.2 745.8,210.4 747.8,210.5 749.8,210.7 751.8,210.8 753.8,211 755.8,211.2 757.8,211.3 759.8,211.5 761.8,211.6 763.8,211.8 765.8,212 767.8,212.1 769.7,212.3 771.7,212.5 773.7,212.6 775.7,212.8 777.7,212.9 779.7,213.1 781.7,213.3 783.7,213.4 785.7,213.6 787.7,213.7 789.7,213.9 L787.7,214.3 785.8,214.7 783.8,215.1 781.9,215.5 779.9,215.9 777.9,216.3 776,216.7 774,217.1 772,217.4 770.1,217.8 768.1,218.2 766.2,218.6 764.2,219 762.2,219.4 760.3,219.8 758.3,220.2 756.4,220.7 754.4,221.1 752.5,221.5 750.5,221.9 748.5,222.3 746.6,222.8 744.6,223.2 742.7,223.7 740.8,224.2 738.8,224.7 736.9,225.1 734.9,225.6 733,226.1 731,226.6 729.1,227 727.2,227.5 725.2,227.9 723.2,228.3 721.3,228.7 719.3,229.1 717.3,229.4 715.4,229.7 713.4,230.1 711.4,230.3 709.4,230.6 707.5,230.9 705.5,231.1 703.5,231.4 701.5,231.6 699.5,231.9 697.5,232.1 695.5,232.3 693.6,232.6 691.6,232.8 689.6,233.1 687.6,233.3 685.6,233.5 683.6,233.8 681.6,234 679.6,234.3 677.7,234.5 675.7,234.7 673.7,235 671.7,235.2 669.7,235.4 667.7,235.6 665.7,235.9 663.7,236.1 661.8,236.3 659.8,236.5 657.8,236.7 655.8,236.9 653.8,237.1 651.8,237.3 649.8,237.5 647.8,237.7 645.8,237.9 643.9,238.1 641.9,238.3 639.9,238.5 637.9,238.7 635.9,238.9 633.9,239.1 631.9,239.3 629.9,239.5 627.9,239.7 625.9,239.9 623.9,240.1 622,240.3 620,240.5 618,240.7 616,241 614,241.2 612,241.5 610,241.7 608.1,242 606.1,242.2 604.1,242.5 602.1,242.7 600.1,243 598.1,243.2 596.1,243.5 594.2,243.7 592.2,244 590.2,244.2 588.2,244.5 586.2,244.7 584.2,245 582.2,245.2 580.3,245.5 578.3,245.7 576.3,246 574.3,246.2 572.3,246.5 570.3,246.8 568.4,247 566.4,247.3 564.4,247.6 562.4,247.9 560.4,248.1 558.5,248.5 556.5,248.8 554.5,249.2 552.6,249.7 550.7,250.3 548.8,250.9 547,251.7 545.2,252.6 543.5,253.6 541.9,254.7 540.3,255.9 538.8,257.2 537.3,258.6 535.9,259.9 534.5,261.4 533.2,262.9 531.9,264.4 530.7,266 529.5,267.6 528.4,269.3 527.4,271 526.4,272.7 525.4,274.5 524.4,276.2 523.4,278 522.5,279.7 521.5,281.5 520.6,283.3 519.7,285 518.7,286.8 517.7,288.5 516.7,290.2 515.7,291.9 514.6,293.6 513.5,295.3 512.4,297 511.4,298.7 510.4,300.4 509.5,302.2 508.5,304 507.7,305.8 506.8,307.6 506,309.4 505.2,311.2 504.4,313 503.6,314.9 502.8,316.7 502.1,318.6 501.4,320.5 500.7,322.4 500,324.2 499.4,326.1 498.7,328 498,329.9 497.4,331.8 496.7,333.7 496.1,335.6 495.4,337.5 494.8,339.3 494.1,341.2 493.4,343.1 492.7,345 492,346.9 491.3,348.7 490.6,350.6 489.9,352.5 489.3,354.4 488.6,356.3 488,358.2 487.4,360.1 486.8,362 486.2,363.9 485.6,365.8 485,367.7 484.4,369.6 483.8,371.5 483.2,373.4 482.5,375.3 481.9,377.2 481.3,379.1 480.7,381 480.1,382.9 479.5,384.8 478.9,386.8 478.3,388.7 477.7,390.6 477.2,392.5 476.6,394.4 476.1,396.3 475.5,398.3 475,400.2 474.5,402.1 474,404.1 473.5,406 473.1,408 472.6,409.9 472.2,411.9 471.8,413.8 471.3,415.8 470.9,417.7 470.4,419.7 469.9,421.6 469.4,423.6 468.9,425.5 468.4,427.4 467.8,429.3 467.1,431.2 466.4,433.1 465.6,434.9 464.8,436.7 463.9,438.5 463,440.3 462.1,442.1 461.2,443.9 460.3,445.6 459.3,447.4 458.4,449.2 457.4,450.9 456.5,452.7 455.6,454.5 454.6,456.2 453.6,457.9 452.5,459.5 451.2,461.1 449.9,462.6 448.5,464 447,465.3 445.5,466.5 443.8,467.7 442.1,468.6 440.4,469.4 438.5,469.9 436.6,470.2 434.7,470.2 432.8,469.9 430.9,469.4 429.1,468.7 427.3,467.8 425.6,466.8 424,465.7 422.4,464.5 420.8,463.2 419.3,462 417.7,460.7 416.3,459.3 414.8,458 413.3,456.6 411.9,455.2 410.4,453.8 409,452.5 407.6,451.1 406.1,449.7 404.7,448.3 403.3,446.9 401.8,445.5 400.4,444.1 398.9,442.7 397.5,441.3 396,440 394.6,438.6 393.1,437.2 391.6,435.9 390.2,434.5 388.7,433.2 387.1,431.9 385.6,430.6 384,429.4 382.4,428.2 380.8,427.1 379.1,426 377.4,425 375.7,423.9 373.9,423 372.2,422 370.4,421.1 368.6,420.2 366.8,419.3 365,418.5 363.2,417.7 361.3,416.9 359.5,416.2 357.6,415.4 355.7,414.7 353.9,414 352,413.3 350.1,412.6 348.3,411.9 346.4,411.1 344.5,410.4 342.7,409.7 340.8,409 338.9,408.3 337.1,407.5 335.2,406.8 333.3,406.1 331.5,405.3 329.6,404.6 327.8,403.9 325.9,403.1 324,402.4 322.2,401.6 320.3,400.9 318.5,400.2 316.6,399.5 314.7,398.9 312.8,398.2 310.9,397.7 309,397.1 307,396.6 305.1,396.1 303.1,395.6 301.2,395.1 299.3,394.7 297.3,394.2 295.4,393.8 293.4,393.3 291.5,392.8 289.5,392.4 287.6,391.9 285.6,391.4 283.7,390.9 281.8,390.4 279.8,389.9 277.9,389.4 276,388.9 274,388.4 272.1,387.9 270.1,387.5 268.2,387 266.2,386.6 264.3,386.2 262.3,385.8 260.3,385.4 258.4,385 256.4,384.7 254.4,384.4 252.5,384.1 250.5,383.8 248.5,383.5 246.5,383.2 244.5,383 242.5,382.7 240.6,382.5 238.6,382.2 236.6,382 234.6,381.7 232.6,381.5 230.6,381.3 228.6,381 226.7,380.8 224.7,380.6 222.7,380.4 220.7,380.1 219.7,380" stroke="#e63ae6"/>
<path d="M219.7,376L221.6,375.4 223.5,374.9 225.5,374.3 227.4,373.8 229.3,373.3 231.3,372.7 233.2,372.2 235.1,371.7 237.1,371.2 239,370.8 241,370.4 242.9,370 244.9,369.6 246.9,369.3 248.9,369 250.8,368.7 252.8,368.4 254.8,368.1 256.8,367.9 258.8,367.7 260.8,367.4 262.8,367.2 264.7,367 266.7,366.8 268.7,366.6 270.7,366.4 272.7,366.2 274.7,366 276.7,365.8 278.7,365.6 280.7,365.4 282.7,365.2 284.7,365 286.7,364.8 288.7,364.6 290.6,364.4 292.6,364.2 294.6,364 296.6,363.8 298.6,363.5 300.6,363.3 302.6,363.1 304.6,362.9 306.6,362.6 308.6,362.4 310.5,362.2 312.5,361.9 314.5,361.7 316.5,361.4 318.5,361.2 320.5,360.9 322.5,360.7 324.4,360.4 326.4,360.1 328.4,359.9 330.4,359.6 332.4,359.3 334.3,359 336.3,358.7 338.3,358.4 340.3,358.1 342.3,357.8 344.2,357.5 346.2,357.1 348.2,356.8 350.2,356.5 352.2,356.2 354.1,355.9 356.1,355.6 358.1,355.3 360.1,355 362,354.7 364,354.4 366,354 368,353.7 369.9,353.4 371.9,353 373.9,352.7 375.9,352.3 377.8,351.9 379.8,351.5 381.7,351.1 383.7,350.6 385.6,350.1 387.6,349.6 389.5,349.1 391.4,348.6 393.3,348 395.3,347.4 397.2,346.8 399.1,346.2 401,345.6 402.9,345 404.8,344.3 406.6,343.6 408.5,342.9 410.3,342.1 412.1,341.2 413.9,340.3 415.6,339.3 417.2,338.1 418.8,336.9 420.3,335.6 421.8,334.3 423.2,332.9 424.6,331.4 426,330 427.3,328.5 428.7,327 430,325.5 431.3,324 432.7,322.5 434,321 435.4,319.6 436.7,318.1 438,316.6 439.3,315.1 440.5,313.5 441.7,311.9 442.9,310.2 444,308.6 445,306.9 446.1,305.2 447.1,303.5 448.2,301.8 449.2,300 450.2,298.3 451.2,296.6 452.1,294.8 453.1,293.1 454,291.3 454.9,289.5 455.8,287.7 456.6,285.9 457.5,284.1 458.3,282.2 459.1,280.4 459.8,278.5 460.6,276.7 461.3,274.8 462,273 462.7,271.1 463.4,269.2 464.1,267.3 464.7,265.4 465.3,263.5 465.9,261.6 466.6,259.7 467.2,257.8 467.8,255.9 468.4,254 469.1,252.1 469.8,250.2 470.5,248.4 471.3,246.5 472.1,244.7 472.9,242.8 473.7,241 474.5,239.2 475.3,237.3 476.1,235.5 476.8,233.7 477.6,231.8 478.4,229.9 479.1,228.1 479.8,226.2 480.5,224.3 481.2,222.5 481.9,220.6 482.6,218.7 483.2,216.8 483.9,214.9 484.6,213 485.3,211.2 486,209.3 486.7,207.4 487.5,205.6 488.2,203.7 489,201.9 489.8,200 490.5,198.2 491.3,196.3 492.1,194.5 492.8,192.6 493.6,190.8 494.3,188.9 495.1,187.1 495.9,185.3 496.8,183.5 497.8,181.7 498.8,180 499.8,178.3 500.9,176.6 502.1,175 503.3,173.4 504.6,171.9 505.9,170.4 507.3,169 508.9,167.8 510.5,166.6 512.2,165.6 513.9,164.7 515.8,163.9 517.6,163.2 519.5,162.7 521.4,162.3 523.4,162 525.4,162 527.4,162.1 529.3,162.3 531.3,162.6 533.2,163.1 535.1,163.6 537,164.3 538.9,165 540.7,165.9 542.5,166.8 544.2,167.7 546,168.6 547.8,169.6 549.5,170.6 551.3,171.5 553,172.5 554.8,173.5 556.5,174.5 558.2,175.5 560,176.5 561.7,177.5 563.5,178.4 565.2,179.4 567,180.4 568.7,181.4 570.5,182.3 572.2,183.3 574,184.3 575.7,185.2 577.5,186.2 579.2,187.1 581,188.1 582.8,189 584.5,190 586.3,190.9 588.1,191.9 589.8,192.8 591.6,193.7 593.4,194.6 595.2,195.4 597.1,196.2 598.9,197 600.8,197.8 602.6,198.5 604.5,199.1 606.4,199.8 608.3,200.4 610.2,201 612.1,201.6 614.1,202.1 616,202.7 617.9,203.2 619.9,203.6 621.8,204 623.8,204.3 625.8,204.6 627.8,204.9 629.8,205.1 631.8,205.3 633.7,205.4 635.7,205.6 637.7,205.8 639.7,205.9 641.7,206 643.7,206.1 645.7,206.3 647.7,206.4 649.7,206.5 651.7,206.6 653.7,206.6 655.7,206.7 657.7,206.8 659.7,206.9 661.7,206.9 663.7,207 665.7,207 667.7,207.1 669.7,207.1 671.7,207.2 673.7,207.2 675.7,207.3 677.7,207.3 679.7,207.4 681.7,207.4 683.7,207.5 685.7,207.6 687.7,207.6 689.7,207.7 691.7,207.8 693.7,207.8 695.7,207.9 697.7,208 699.7,208.1 701.7,208.1 703.7,208.2 705.7,208.3 707.7,208.4 709.7,208.5 711.7,208.6 713.7,208.7 715.7,208.8 717.7,208.9 719.7,209 721.7,209.1 723.7,209.2 725.7,209.3 727.7,209.4 729.7,209.5 731.7,209.6 733.7,209.8 735.7,209.9 737.7,210 739.7,210.1 741.7,210.2 743.7,210.3 745.7,210.4 747.7,210.6 749.7,210.7 751.7,210.8 753.7,210.9 755.7,211 757.7,211.1 759.7,211.2 761.7,211.4 763.7,211.5 765.7,211.6 767.7,211.7 769.7,211.8 771.7,211.9 773.7,212.1 775.7,212.2 777.7,212.3 779.7,212.4 781.7,212.5 783.7,212.7 785.7,212.8 787.7,212.9 789.7,213 L787.7,213.4 785.8,213.8 783.8,214.2 781.9,214.7 779.9,215.1 777.9,215.5 776,215.9 774,216.3 772.1,216.7 770.1,217.2 768.2,217.6 766.2,218 764.2,218.4 762.3,218.8 760.3,219.3 758.4,219.7 756.4,220.1 754.4,220.5 752.5,221 750.5,221.4 748.6,221.8 746.6,222.3 744.7,222.7 742.7,223.2 740.8,223.7 738.8,224.2 736.9,224.6 735,225.1 733,225.6 731.1,226 729.1,226.5 727.2,227 725.2,227.4 723.2,227.8 721.3,228.2 719.3,228.6 717.4,229 715.4,229.3 713.4,229.6 711.4,230 709.5,230.3 707.5,230.6 705.5,230.9 703.5,231.2 701.5,231.4 699.5,231.7 697.6,232 695.6,232.3 693.6,232.5 691.6,232.8 689.6,233 687.6,233.3 685.6,233.6 683.7,233.8 681.7,234 679.7,234.3 677.7,234.5 675.7,234.7 673.7,235 671.7,235.2 669.7,235.4 667.7,235.6 665.8,235.9 663.8,236.1 661.8,236.3 659.8,236.5 657.8,236.7 655.8,237 653.8,237.2 651.8,237.4 649.8,237.6 647.8,237.8 645.8,238 643.8,238.1 641.8,238.3 639.9,238.5 637.9,238.7 635.9,238.8 633.9,239 631.9,239.1 629.9,239.3 627.9,239.4 625.9,239.6 623.9,239.7 621.9,239.9 619.9,240 617.9,240.1 615.9,240.3 613.9,240.4 611.9,240.5 609.9,240.7 607.9,240.8 605.9,241 603.9,241.2 601.9,241.4 599.9,241.6 597.9,241.9 596,242.2 594,242.5 592,242.9 590.1,243.3 588.1,243.6 586.1,244 584.1,244.3 582.2,244.5 580.2,244.7 578.2,244.9 576.2,245 574.2,245.2 572.2,245.4 570.2,245.6 568.2,245.8 566.2,246.1 564.2,246.4 562.3,246.7 560.3,247.1 558.4,247.5 556.4,248 554.5,248.5 552.6,249 550.7,249.7 548.8,250.4 547,251.2 545.2,252.1 543.5,253.2 541.9,254.3 540.3,255.5 538.8,256.8 537.3,258.1 535.8,259.5 534.4,260.9 533.1,262.4 531.8,263.9 530.6,265.5 529.4,267.1 528.2,268.7 527.1,270.4 526,272 524.9,273.7 523.8,275.4 522.8,277.1 521.8,278.8 520.8,280.6 519.8,282.3 518.8,284.1 517.8,285.8 516.8,287.5 515.8,289.3 514.8,291 513.8,292.7 512.8,294.5 511.7,296.2 510.7,297.9 509.7,299.6 508.7,301.4 507.8,303.1 506.8,304.9 505.9,306.7 504.9,308.4 504,310.2 503.1,312 502.2,313.8 501.3,315.6 500.4,317.4 499.6,319.2 498.7,321 497.9,322.8 497.2,324.7 496.4,326.5 495.7,328.4 495,330.3 494.4,332.2 493.8,334.1 493.3,336 492.8,338 492.3,339.9 491.8,341.8 491.3,343.8 490.8,345.7 490.4,347.7 489.9,349.6 489.4,351.6 488.8,353.5 488.3,355.4 487.7,357.3 487.1,359.2 486.4,361.1 485.8,363 485.1,364.9 484.4,366.8 483.8,368.7 483.2,370.6 482.5,372.5 481.9,374.4 481.2,376.3 480.6,378.2 480,380.1 479.3,382 478.6,383.8 478,385.7 477.3,387.6 476.6,389.5 475.9,391.4 475.3,393.3 474.6,395.2 474,397.1 473.4,399 472.8,400.9 472.2,402.8 471.7,404.7 471.2,406.7 470.6,408.6 470.1,410.6 469.6,412.5 469.1,414.4 468.6,416.4 468.1,418.3 467.6,420.2 467.1,422.2 466.6,424.1 466,426 465.3,427.9 464.6,429.8 463.8,431.6 463,433.4 462,435.2 461.1,436.9 460,438.6 459,440.3 457.9,442 456.8,443.7 455.7,445.4 454.6,447 453.4,448.6 452.1,450.2 450.9,451.7 449.5,453.2 448.2,454.7 446.8,456.1 445.3,457.4 443.7,458.7 442.1,459.7 440.4,460.6 438.6,461.2 436.8,461.4 434.9,461.3 433.1,460.9 431.3,460.2 429.5,459.3 427.8,458.3 426.2,457.2 424.6,456 423,454.7 421.5,453.4 420,452.1 418.5,450.7 417.1,449.4 415.6,448 414.1,446.6 412.7,445.2 411.3,443.8 409.8,442.4 408.4,441.1 406.9,439.7 405.5,438.3 404,436.9 402.5,435.6 401.1,434.2 399.6,432.9 398.1,431.5 396.7,430.1 395.3,428.7 393.9,427.2 392.5,425.8 391.1,424.4 389.7,422.9 388.3,421.6 386.8,420.2 385.2,418.9 383.7,417.7 382.1,416.5 380.4,415.4 378.7,414.3 377,413.2 375.3,412.2 373.6,411.2 371.9,410.2 370.1,409.2 368.3,408.3 366.6,407.3 364.8,406.4 363,405.5 361.2,404.6 359.4,403.8 357.6,402.9 355.8,402.1 353.9,401.3 352.1,400.6 350.2,399.8 348.3,399.1 346.5,398.4 344.6,397.7 342.7,397 340.8,396.4 338.9,395.7 337,395.1 335.1,394.5 333.2,393.9 331.3,393.3 329.4,392.7 327.5,392.1 325.5,391.6 323.6,391 321.7,390.5 319.8,389.9 317.8,389.4 315.9,388.9 313.9,388.4 312,387.9 310.1,387.5 308.1,387.1 306.1,386.7 304.2,386.3 302.2,386 300.2,385.7 298.2,385.3 296.3,385 294.3,384.7 292.3,384.4 290.3,384.1 288.3,383.8 286.4,383.5 284.4,383.2 282.4,382.9 280.4,382.7 278.4,382.4 276.4,382.1 274.5,381.8 272.5,381.6 270.5,381.3 268.5,381.1 266.5,380.8 264.5,380.6 262.5,380.3 260.5,380.1 258.6,379.9 256.6,379.7 254.6,379.5 252.6,379.2 250.6,379 248.6,378.8 246.6,378.6 244.6,378.4 242.6,378.2 240.6,378 238.6,377.8 236.6,377.6 234.6,377.4 232.7,377.3 230.7,377.1 228.7,376.9 226.7,376.7 224.7,376.5 222.7,376.3 220.7,376.1 219.7,376" stroke="#e63ae6" stroke-dasharray="2.4 7.4"/>
<path d="M219.7,389.7L221.6,389.2 223.6,388.7 225.5,388.1 227.4,387.6 229.4,387.1 231.3,386.6 233.2,386.1 235.2,385.5 237.1,385 239,384.5 241,384 242.9,383.5 244.8,383 246.8,382.5 248.7,382 250.6,381.5 252.6,381 254.5,380.5 256.5,380 258.4,379.5 260.3,379.1 262.3,378.6 264.2,378.2 266.2,377.8 268.2,377.3 270.1,376.9 272.1,376.5 274,376.1 276,375.7 278,375.3 279.9,374.9 281.9,374.6 283.9,374.2 285.8,373.8 287.8,373.5 289.8,373.2 291.7,372.8 293.7,372.5 295.7,372.2 297.7,371.9 299.7,371.6 301.6,371.4 303.6,371.1 305.6,370.8 307.6,370.6 309.6,370.3 311.6,370.1 313.5,369.8 315.5,369.6 317.5,369.3 319.5,369.1 321.5,368.8 323.5,368.6 325.4,368.3 327.4,368.1 329.4,367.8 331.4,367.5 333.4,367.3 335.4,367 337.3,366.7 339.3,366.4 341.3,366.1 343.3,365.8 345.2,365.4 347.2,365.1 349.2,364.7 351.1,364.3 353.1,364 355.1,363.6 357,363.2 359,362.8 361,362.4 362.9,362 364.9,361.6 366.8,361.2 368.8,360.8 370.8,360.4 372.7,360 374.7,359.6 376.6,359.2 378.6,358.8 380.6,358.4 382.5,358 384.5,357.6 386.5,357.3 388.4,356.9 390.4,356.5 392.3,356 394.3,355.6 396.2,355 398.1,354.4 400,353.8 401.8,353 403.6,352.2 405.4,351.3 407.1,350.3 408.9,349.3 410.6,348.3 412.3,347.2 414,346.1 415.6,345 417.3,343.9 418.9,342.7 420.5,341.5 422,340.3 423.6,339 425.1,337.7 426.6,336.3 428,334.9 429.3,333.5 430.7,332 431.9,330.4 433.1,328.8 434.2,327.2 435.3,325.5 436.4,323.8 437.4,322.1 438.4,320.3 439.3,318.6 440.2,316.8 441.1,315 442,313.2 442.9,311.4 443.7,309.6 444.5,307.8 445.4,305.9 446.2,304.1 447,302.3 447.8,300.5 448.7,298.7 449.6,296.9 450.5,295.1 451.4,293.3 452.3,291.5 453.1,289.7 454,287.9 454.8,286.1 455.6,284.2 456.4,282.4 457.2,280.6 458,278.7 458.7,276.9 459.4,275 460.1,273.1 460.7,271.2 461.3,269.3 461.9,267.4 462.5,265.5 463.1,263.6 463.7,261.6 464.3,259.7 464.9,257.9 465.6,256 466.2,254.1 466.9,252.2 467.6,250.3 468.3,248.4 469,246.6 469.7,244.7 470.4,242.8 471.1,240.9 471.8,239.1 472.5,237.2 473.2,235.3 473.8,233.4 474.5,231.5 475.1,229.6 475.7,227.7 476.3,225.8 476.8,223.9 477.4,222 478,220 478.6,218.1 479.1,216.2 479.7,214.3 480.3,212.4 480.9,210.5 481.5,208.6 482.2,206.7 482.8,204.8 483.5,202.9 484.1,201 484.8,199.1 485.5,197.2 486.1,195.3 486.8,193.5 487.5,191.6 488.2,189.7 488.9,187.8 489.6,186 490.3,184.1 491.1,182.3 491.8,180.4 492.6,178.5 493.3,176.7 494.1,174.8 494.9,173 495.7,171.2 496.5,169.3 497.4,167.5 498.2,165.7 499.1,163.9 500,162.1 500.9,160.4 501.8,158.6 502.8,156.9 503.9,155.2 505.1,153.6 506.4,152.1 507.8,150.7 509.2,149.4 510.8,148.1 512.4,147 514.1,146 515.9,145.1 517.7,144.3 519.6,143.6 521.5,143 523.4,142.6 525.3,142.3 527.3,142.2 529.3,142.4 531.2,142.6 533.1,143.1 535,143.7 536.9,144.3 538.8,145.1 540.6,145.9 542.4,146.8 544.1,147.7 545.8,148.7 547.6,149.7 549.3,150.8 551,151.8 552.6,152.9 554.3,154 555.9,155.2 557.5,156.4 559.1,157.6 560.7,158.8 562.3,160.1 563.8,161.3 565.4,162.5 567.1,163.7 568.7,164.8 570.3,166 572,167.1 573.6,168.2 575.3,169.3 577,170.3 578.8,171.4 580.5,172.4 582.2,173.3 584,174.3 585.8,175.2 587.5,176.1 589.3,177.1 591.1,177.9 592.9,178.8 594.7,179.7 596.5,180.5 598.4,181.3 600.2,182.1 602.1,182.8 603.9,183.5 605.8,184.2 607.7,184.9 609.6,185.5 611.5,186.1 613.4,186.6 615.4,187.1 617.3,187.6 619.3,188 621.2,188.4 623.2,188.8 625.2,189.2 627.1,189.5 629.1,189.8 631.1,190.1 633.1,190.4 635.1,190.6 637,190.8 639,191 641,191.2 643,191.3 645,191.5 647,191.6 649,191.7 651,191.8 653,191.9 655,192 657,192.1 659,192.2 661,192.3 663,192.3 665,192.4 667,192.5 669,192.5 671,192.6 673,192.6 675,192.7 677,192.7 679,192.8 681,192.9 683,192.9 685,193 687,193.1 689,193.1 691,193.2 693,193.3 695,193.4 697,193.5 699,193.6 701,193.7 703,193.8 705,193.9 707,194 709,194.2 711,194.3 713,194.4 715,194.5 717,194.6 719,194.8 721,194.9 723,195 725,195.2 727,195.3 728.9,195.4 730.9,195.6 732.9,195.7 734.9,195.9 736.9,196 738.9,196.1 740.9,196.3 742.9,196.4 744.9,196.6 746.9,196.8 748.9,196.9 750.9,197.1 752.9,197.2 754.9,197.4 756.9,197.6 758.9,197.8 760.9,198 762.8,198.2 764.8,198.4 766.8,198.6 768.8,198.8 770.8,199 772.8,199.2 774.8,199.4 776.8,199.7 778.8,199.9 780.8,200.1 782.7,200.3 784.7,200.5 786.7,200.8 788.7,201 789.7,201.1 L787.8,201.7 785.9,202.3 784,202.8 782,203.4 780.1,204 778.2,204.6 776.3,205.2 774.4,205.7 772.4,206.3 770.5,206.9 768.6,207.4 766.7,208 764.7,208.5 762.8,209 760.9,209.5 758.9,210.1 757,210.6 755.1,211.1 753.1,211.6 751.2,212.1 749.2,212.6 747.3,213 745.4,213.5 743.4,214 741.5,214.4 739.5,214.9 737.6,215.3 735.6,215.8 733.6,216.2 731.7,216.5 729.7,216.9 727.7,217.3 725.8,217.6 723.8,217.9 721.8,218.2 719.8,218.5 717.8,218.8 715.9,219 713.9,219.3 711.9,219.5 709.9,219.8 707.9,220 705.9,220.3 703.9,220.5 701.9,220.7 700,221 698,221.3 696,221.6 694,221.8 692,222.2 690.1,222.5 688.1,222.8 686.1,223.2 684.1,223.5 682.2,223.9 680.2,224.3 678.2,224.6 676.3,225 674.3,225.3 672.3,225.7 670.3,226 668.4,226.4 666.4,226.7 664.4,227 662.4,227.3 660.5,227.7 658.5,228 656.5,228.2 654.5,228.5 652.5,228.8 650.6,229.1 648.6,229.4 646.6,229.7 644.6,230 642.6,230.3 640.6,230.5 638.7,230.8 636.7,231.1 634.7,231.4 632.7,231.6 630.7,231.9 628.7,232.2 626.8,232.4 624.8,232.7 622.8,232.9 620.8,233.2 618.8,233.4 616.8,233.7 614.8,233.9 612.8,234.1 610.9,234.3 608.9,234.6 606.9,234.8 604.9,235 602.9,235.2 600.9,235.4 598.9,235.6 596.9,235.8 594.9,236 592.9,236.2 590.9,236.4 588.9,236.5 586.9,236.7 585,237 583,237.2 581,237.4 579,237.7 577,237.9 575,238.2 573,238.5 571.1,238.9 569.1,239.2 567.1,239.6 565.2,240.1 563.3,240.6 561.3,241.1 559.4,241.7 557.5,242.4 555.7,243.1 553.8,243.8 552,244.6 550.2,245.5 548.4,246.4 546.6,247.3 544.9,248.3 543.2,249.4 541.6,250.5 540,251.7 538.4,253 536.9,254.3 535.5,255.7 534.1,257.1 532.7,258.5 531.3,260 530,261.5 528.7,263 527.4,264.5 526.1,266.1 524.8,267.6 523.5,269.1 522.2,270.7 521,272.2 519.7,273.8 518.6,275.4 517.5,277.1 516.4,278.8 515.4,280.5 514.4,282.3 513.5,284 512.6,285.8 511.7,287.6 510.8,289.4 509.9,291.2 509.1,293 508.2,294.8 507.4,296.7 506.7,298.5 506,300.4 505.3,302.3 504.7,304.2 504.1,306.1 503.6,308 503.1,310 502.6,311.9 502.1,313.8 501.6,315.8 501.2,317.7 500.7,319.7 500.3,321.6 499.9,323.6 499.5,325.6 499,327.5 498.6,329.5 498.1,331.4 497.6,333.4 497.1,335.3 496.6,337.2 496.1,339.2 495.5,341.1 495,343 494.4,344.9 493.9,346.9 493.3,348.8 492.8,350.7 492.2,352.6 491.7,354.6 491.1,356.5 490.6,358.4 490.1,360.3 489.5,362.3 489,364.2 488.5,366.1 488,368.1 487.4,370 486.9,371.9 486.3,373.8 485.7,375.8 485.2,377.7 484.6,379.6 484.1,381.5 483.5,383.5 482.9,385.4 482.4,387.3 481.8,389.2 481.3,391.2 480.7,393.1 480.2,395 479.7,396.9 479.1,398.9 478.6,400.8 478.1,402.7 477.6,404.7 477.1,406.6 476.6,408.6 476.1,410.5 475.6,412.4 475.2,414.4 474.7,416.3 474.3,418.3 473.8,420.3 473.4,422.2 473,424.2 472.5,426.1 472,428.1 471.5,430 471,431.9 470.5,433.9 469.9,435.8 469.3,437.7 468.7,439.6 468.1,441.5 467.5,443.4 466.9,445.3 466.3,447.2 465.7,449.1 465.1,451 464.4,452.9 463.8,454.8 463.1,456.7 462.5,458.6 461.8,460.5 461,462.4 460.3,464.2 459.5,466.1 458.7,467.9 457.9,469.7 457.1,471.6 456.3,473.4 455.4,475.2 454.5,477 453.6,478.7 452.6,480.5 451.6,482.2 450.5,483.9 449.4,485.6 448.2,487.2 447,488.7 445.7,490.2 444.3,491.7 443,493.1 441.5,494.4 439.9,495.4 438.2,496.1 436.4,496.5 434.5,496.5 432.6,496.2 430.8,495.7 428.9,495 427.1,494.2 425.4,493.3 423.7,492.2 422,491.1 420.4,489.9 418.9,488.6 417.5,487.3 416,485.9 414.6,484.4 413.3,483 411.9,481.5 410.5,480 409.2,478.6 407.8,477.1 406.4,475.7 405,474.2 403.7,472.8 402.3,471.3 400.8,469.9 399.4,468.5 398,467.1 396.5,465.7 395.1,464.3 393.6,463 392.2,461.6 390.7,460.2 389.3,458.8 387.9,457.4 386.5,456 385,454.6 383.6,453.2 382.1,451.8 380.6,450.5 379.1,449.2 377.6,447.8 376.1,446.6 374.5,445.3 372.9,444.1 371.3,442.9 369.7,441.7 368.1,440.6 366.4,439.4 364.8,438.3 363.1,437.2 361.4,436.1 359.8,435 358.1,433.9 356.4,432.9 354.7,431.8 353,430.8 351.2,429.7 349.5,428.8 347.8,427.8 346,426.8 344.2,425.9 342.4,425 340.6,424.2 338.8,423.3 337,422.5 335.1,421.7 333.3,420.9 331.5,420.1 329.6,419.3 327.8,418.6 325.9,417.8 324.1,417 322.2,416.3 320.3,415.6 318.5,414.8 316.6,414.1 314.7,413.4 312.9,412.7 311,412 309.1,411.3 307.2,410.6 305.4,409.9 303.5,409.2 301.6,408.5 299.7,407.9 297.8,407.2 295.9,406.6 294,406 292.1,405.5 290.1,404.9 288.2,404.4 286.3,403.9 284.3,403.3 282.4,402.8 280.5,402.3 278.5,401.8 276.6,401.3 274.6,400.9 272.7,400.4 270.7,399.9 268.8,399.5 266.8,399 264.9,398.6 262.9,398.2 261,397.7 259,397.3 257.1,396.9 255.1,396.5 253.1,396.1 251.2,395.7 249.2,395.3 247.2,394.9 245.3,394.5 243.3,394.1 241.3,393.8 239.4,393.4 237.4,393 235.4,392.6 233.5,392.3 231.5,391.9 229.5,391.5 227.6,391.2 225.6,390.8 223.6,390.4 221.7,390.1 219.7,389.7" stroke="#2323d6"/>
<path d="M219.7,388L221.6,387.5 223.6,387 225.5,386.5 227.5,386.1 229.4,385.6 231.4,385.1 233.3,384.6 235.2,384.1 237.2,383.6 239.1,383.2 241.1,382.7 243,382.2 245,381.7 246.9,381.3 248.9,380.8 250.8,380.3 252.8,379.9 254.7,379.4 256.7,378.9 258.6,378.5 260.6,378 262.5,377.6 264.5,377.2 266.4,376.7 268.4,376.3 270.3,375.9 272.3,375.5 274.2,375 276.2,374.6 278.2,374.2 280.1,373.8 282.1,373.5 284.1,373.1 286,372.7 288,372.4 290,372 292,371.7 293.9,371.4 295.9,371.1 297.9,370.8 299.9,370.5 301.9,370.3 303.9,370 305.8,369.8 307.8,369.5 309.8,369.3 311.8,369 313.8,368.8 315.8,368.5 317.8,368.3 319.7,368 321.7,367.8 323.7,367.5 325.7,367.2 327.7,366.9 329.7,366.7 331.6,366.4 333.6,366.1 335.6,365.8 337.6,365.5 339.6,365.2 341.5,364.9 343.5,364.6 345.5,364.2 347.5,363.9 349.4,363.5 351.4,363.2 353.4,362.9 355.4,362.5 357.3,362.2 359.3,361.8 361.3,361.5 363.2,361.1 365.2,360.7 367.2,360.4 369.2,360 371.1,359.7 373.1,359.3 375.1,358.9 377,358.6 379,358.2 381,357.8 382.9,357.4 384.9,357.1 386.9,356.7 388.8,356.3 390.8,355.9 392.7,355.4 394.7,354.9 396.6,354.4 398.5,353.7 400.4,353 402.2,352.3 404,351.4 405.8,350.5 407.5,349.6 409.3,348.6 411,347.5 412.7,346.5 414.4,345.4 416,344.3 417.7,343.1 419.3,341.9 420.9,340.7 422.4,339.4 423.9,338.1 425.4,336.8 426.9,335.4 428.2,334 429.6,332.5 430.9,331 432.1,329.4 433.3,327.8 434.4,326.1 435.4,324.4 436.5,322.7 437.5,321 438.4,319.2 439.4,317.4 440.3,315.7 441.2,313.9 442.1,312.1 443,310.3 443.8,308.5 444.7,306.7 445.5,304.9 446.4,303 447.2,301.2 448.1,299.4 449,297.6 449.9,295.8 450.7,294 451.6,292.2 452.5,290.4 453.4,288.6 454.2,286.8 455.1,285 455.9,283.2 456.7,281.3 457.5,279.5 458.2,277.6 458.9,275.8 459.6,273.9 460.3,272 460.9,270.1 461.5,268.2 462.1,266.3 462.7,264.4 463.3,262.5 463.9,260.5 464.5,258.6 465.1,256.7 465.8,254.9 466.5,253 467.1,251.1 467.8,249.2 468.5,247.3 469.2,245.5 469.9,243.6 470.6,241.7 471.3,239.8 472,238 472.7,236.1 473.4,234.2 474,232.3 474.7,230.4 475.3,228.5 475.9,226.6 476.5,224.7 477,222.7 477.6,220.8 478.2,218.9 478.7,217 479.3,215.1 479.9,213.1 480.5,211.2 481.1,209.3 481.7,207.4 482.4,205.5 483,203.6 483.7,201.7 484.4,199.9 485,198 485.7,196.1 486.3,194.2 487,192.3 487.7,190.4 488.4,188.5 489.1,186.7 489.9,184.8 490.6,183 491.4,181.1 492.1,179.2 492.9,177.4 493.7,175.6 494.5,173.7 495.4,171.9 496.2,170.1 497.1,168.3 498,166.6 498.9,164.8 499.9,163 500.8,161.2 501.8,159.5 502.8,157.8 504,156.2 505.2,154.6 506.5,153.1 507.9,151.7 509.4,150.4 511,149.2 512.6,148.1 514.3,147 516.1,146.2 517.9,145.4 519.8,144.7 521.7,144.1 523.6,143.7 525.6,143.5 527.5,143.4 529.5,143.6 531.4,143.9 533.3,144.4 535.2,145.1 537.1,145.8 538.9,146.6 540.7,147.5 542.4,148.5 544.1,149.5 545.8,150.6 547.5,151.7 549.1,152.8 550.8,154 552.4,155.1 554,156.3 555.7,157.5 557.3,158.7 558.9,159.8 560.5,161 562.1,162.2 563.8,163.4 565.4,164.5 567,165.7 568.6,166.9 570.3,168 571.9,169.2 573.5,170.3 575.2,171.5 576.9,172.6 578.5,173.7 580.2,174.7 581.9,175.8 583.7,176.8 585.4,177.8 587.2,178.7 589,179.6 590.7,180.5 592.5,181.4 594.3,182.3 596.2,183.1 598,183.9 599.8,184.7 601.7,185.5 603.6,186.2 605.4,186.8 607.3,187.5 609.3,188.1 611.2,188.6 613.1,189.1 615.1,189.6 617,190 619,190.4 620.9,190.8 622.9,191.2 624.9,191.6 626.8,191.9 628.8,192.2 630.8,192.5 632.8,192.8 634.8,193.1 636.8,193.3 638.7,193.5 640.7,193.8 642.7,193.9 644.7,194.1 646.7,194.3 648.7,194.4 650.7,194.5 652.7,194.6 654.7,194.7 656.7,194.8 658.7,194.9 660.7,194.9 662.7,195 664.7,195.1 666.7,195.1 668.7,195.2 670.7,195.2 672.7,195.3 674.7,195.3 676.7,195.4 678.7,195.4 680.7,195.5 682.7,195.5 684.7,195.6 686.7,195.6 688.7,195.7 690.7,195.8 692.7,195.8 694.7,195.9 696.7,196 698.7,196.1 700.7,196.2 702.7,196.3 704.7,196.4 706.8,196.5 708.7,196.6 710.7,196.7 712.7,196.8 714.7,196.9 716.7,197 718.7,197.1 720.7,197.2 722.7,197.3 724.7,197.4 726.7,197.5 728.7,197.7 730.7,197.8 732.7,197.9 734.7,198 736.7,198.1 738.7,198.2 740.7,198.4 742.7,198.5 744.7,198.6 746.7,198.7 748.7,198.8 750.7,199 752.7,199.1 754.7,199.2 756.7,199.3 758.7,199.5 760.7,199.6 762.7,199.7 764.7,199.8 766.7,200 768.7,200.1 770.7,200.2 772.7,200.4 774.7,200.5 776.7,200.6 778.7,200.8 780.7,200.9 782.7,201 784.7,201.2 786.7,201.3 788.7,201.4 789.7,201.5 L787.8,202.1 785.9,202.7 784,203.3 782.1,203.9 780.1,204.5 778.2,205.1 776.3,205.6 774.4,206.2 772.5,206.8 770.6,207.3 768.6,207.9 766.7,208.4 764.8,209 762.9,209.5 760.9,210 759,210.5 757,211 755.1,211.5 753.2,211.9 751.2,212.4 749.3,212.9 747.3,213.3 745.4,213.8 743.4,214.2 741.5,214.7 739.5,215.1 737.6,215.5 735.6,216 733.7,216.4 731.7,216.8 729.7,217.2 727.8,217.6 725.8,218 723.8,218.3 721.9,218.7 719.9,219 717.9,219.3 715.9,219.6 714,219.9 712,220.1 710,220.4 708,220.6 706,220.9 704,221.1 702.1,221.4 700.1,221.7 698.1,221.9 696.1,222.2 694.1,222.5 692.2,222.8 690.2,223.1 688.2,223.5 686.2,223.8 684.3,224.1 682.3,224.5 680.3,224.8 678.3,225.2 676.4,225.5 674.4,225.8 672.4,226.2 670.5,226.5 668.5,226.8 666.5,227.1 664.5,227.4 662.5,227.7 660.6,227.9 658.6,228.2 656.6,228.5 654.6,228.7 652.6,229 650.6,229.2 648.7,229.5 646.7,229.7 644.7,230 642.7,230.2 640.7,230.4 638.7,230.7 636.7,230.9 634.7,231.1 632.8,231.3 630.8,231.5 628.8,231.7 626.8,231.9 624.8,232.1 622.8,232.2 620.8,232.4 618.8,232.6 616.8,232.7 614.8,232.9 612.8,233 610.8,233.2 608.8,233.3 606.8,233.5 604.8,233.6 602.8,233.8 600.9,233.9 598.9,234.1 596.9,234.3 594.9,234.5 592.9,234.7 590.9,234.8 588.9,235 586.9,235.2 584.9,235.5 582.9,235.7 580.9,235.9 579,236.1 577,236.4 575,236.6 573,236.9 571,237.1 569,237.4 567.1,237.8 565.1,238.2 563.2,238.6 561.2,239.1 559.3,239.7 557.4,240.3 555.6,241.1 553.7,241.8 551.9,242.7 550.2,243.6 548.5,244.6 546.8,245.7 545.1,246.8 543.5,248 541.9,249.2 540.3,250.4 538.8,251.7 537.3,253 535.8,254.4 534.4,255.8 533,257.2 531.7,258.7 530.3,260.2 529,261.7 527.7,263.2 526.4,264.7 525.2,266.3 523.9,267.8 522.6,269.4 521.4,271 520.2,272.6 519,274.2 517.9,275.8 516.8,277.5 515.7,279.2 514.6,280.9 513.6,282.6 512.6,284.3 511.6,286 510.6,287.8 509.7,289.5 508.7,291.3 507.8,293.1 506.9,294.9 506.1,296.7 505.3,298.5 504.5,300.3 503.8,302.2 503.2,304.1 502.6,306 502.1,308 501.6,309.9 501.1,311.8 500.6,313.8 500.1,315.7 499.7,317.7 499.3,319.6 498.8,321.6 498.4,323.5 498,325.5 497.5,327.4 497.1,329.4 496.6,331.3 496.1,333.3 495.6,335.2 495.1,337.1 494.6,339.1 494.1,341 493.5,342.9 493,344.8 492.4,346.8 491.8,348.7 491.3,350.6 490.7,352.5 490.2,354.4 489.6,356.4 489.1,358.3 488.6,360.2 488.1,362.2 487.5,364.1 487,366 486.5,368 485.9,369.9 485.4,371.8 484.8,373.7 484.3,375.6 483.7,377.6 483.1,379.5 482.6,381.4 482,383.3 481.4,385.2 480.8,387.1 480.3,389.1 479.7,391 479.1,392.9 478.5,394.8 478,396.7 477.4,398.7 476.9,400.6 476.3,402.5 475.8,404.4 475.3,406.4 474.7,408.3 474.2,410.2 473.7,412.2 473.3,414.1 472.8,416.1 472.3,418 471.9,419.9 471.4,421.9 471,423.8 470.5,425.8 470,427.7 469.5,429.7 469,431.6 468.4,433.5 467.8,435.4 467.2,437.3 466.5,439.2 465.9,441.1 465.2,443 464.5,444.9 463.8,446.7 463.2,448.6 462.5,450.5 461.7,452.4 461,454.2 460.3,456.1 459.5,457.9 458.7,459.8 457.9,461.6 457.1,463.4 456.3,465.2 455.4,467 454.5,468.8 453.6,470.6 452.6,472.3 451.6,474.1 450.5,475.8 449.5,477.5 448.4,479.2 447.3,480.8 446.2,482.5 445,484.1 443.7,485.6 442.3,487 440.8,488.2 439.2,489.3 437.5,490.1 435.6,490.7 433.7,491.1 431.8,491.2 429.9,491.1 428,490.8 426.2,490.2 424.5,489.3 422.8,488.2 421.3,487 419.9,485.7 418.5,484.2 417.2,482.7 416.1,481.1 414.9,479.4 413.9,477.7 412.8,476 411.8,474.3 410.7,472.7 409.5,471 408.4,469.4 407.1,467.8 405.8,466.3 404.5,464.8 403.2,463.3 401.8,461.9 400.4,460.4 399,459 397.6,457.5 396.2,456.1 394.8,454.7 393.4,453.3 392,451.9 390.6,450.5 389.1,449.1 387.6,447.8 386.1,446.4 384.7,445.1 383.1,443.8 381.6,442.5 380.1,441.2 378.5,439.9 377,438.7 375.4,437.4 373.9,436.2 372.3,434.9 370.7,433.7 369.1,432.5 367.6,431.2 365.9,430.1 364.3,428.9 362.7,427.8 361,426.7 359.3,425.6 357.6,424.5 355.9,423.5 354.1,422.5 352.4,421.6 350.6,420.6 348.9,419.7 347.1,418.8 345.3,417.9 343.5,417 341.7,416.1 339.9,415.2 338.1,414.3 336.3,413.5 334.5,412.6 332.7,411.8 330.9,410.9 329.1,410.1 327.2,409.3 325.4,408.5 323.5,407.7 321.7,407 319.8,406.3 317.9,405.6 316.1,405 314.2,404.3 312.2,403.7 310.3,403.1 308.4,402.6 306.5,402 304.6,401.5 302.6,401 300.7,400.5 298.7,400.1 296.8,399.6 294.8,399.2 292.9,398.8 290.9,398.4 289,397.9 287,397.5 285,397.1 283.1,396.7 281.1,396.3 279.2,395.9 277.2,395.5 275.2,395.1 273.3,394.7 271.3,394.4 269.3,394 267.4,393.7 265.4,393.4 263.4,393 261.4,392.7 259.5,392.5 257.5,392.2 255.5,391.9 253.5,391.7 251.5,391.4 249.5,391.2 247.6,391 245.6,390.7 243.6,390.5 241.6,390.3 239.6,390.1 237.6,389.9 235.6,389.7 233.6,389.4 231.6,389.2 229.6,389 227.7,388.8 225.7,388.6 223.7,388.4 221.7,388.2 219.7,388" stroke="#2323d6" stroke-dasharray="2.4 7.4"/>
<path d="M219.7,403.6L221.6,403 223.5,402.4 225.4,401.8 227.3,401.1 229.2,400.5 231.1,399.9 233,399.3 234.9,398.7 236.8,398.1 238.8,397.5 240.7,396.9 242.6,396.3 244.5,395.7 246.4,395.1 248.3,394.5 250.2,393.9 252.1,393.4 254.1,392.8 256,392.2 257.9,391.6 259.8,391 261.7,390.4 263.6,389.9 265.5,389.3 267.5,388.7 269.4,388.1 271.3,387.6 273.2,387 275.1,386.5 277.1,385.9 279,385.4 280.9,384.9 282.9,384.4 284.8,383.9 286.8,383.4 288.7,382.9 290.7,382.5 292.6,382.1 294.6,381.7 296.5,381.3 298.5,380.9 300.5,380.6 302.4,380.2 304.4,379.9 306.4,379.6 308.4,379.3 310.3,379 312.3,378.7 314.3,378.4 316.3,378.1 318.3,377.8 320.2,377.5 322.2,377.2 324.2,376.8 326.2,376.5 328.1,376.2 330.1,375.8 332.1,375.5 334,375.1 336,374.7 338,374.3 339.9,373.9 341.9,373.5 343.9,373.1 345.8,372.7 347.8,372.3 349.7,371.8 351.7,371.4 353.6,371 355.6,370.5 357.5,370.1 359.5,369.6 361.4,369.1 363.4,368.7 365.3,368.2 367.2,367.6 369.2,367.1 371.1,366.6 373,366 374.9,365.5 376.9,364.9 378.8,364.4 380.7,363.8 382.6,363.2 384.5,362.7 386.5,362.1 388.4,361.5 390.3,360.9 392.2,360.3 394.1,359.7 395.9,359 397.8,358.2 399.6,357.4 401.4,356.5 403.2,355.5 404.9,354.5 406.6,353.5 408.2,352.4 409.9,351.2 411.5,350.1 413.2,348.9 414.8,347.7 416.4,346.5 417.9,345.3 419.5,344 421,342.7 422.5,341.4 423.9,340 425.3,338.6 426.7,337.2 428.1,335.7 429.4,334.2 430.6,332.6 431.8,331 433,329.4 434.2,327.8 435.2,326.1 436.3,324.4 437.3,322.7 438.3,320.9 439.3,319.2 440.2,317.4 441.1,315.6 442,313.8 442.9,312 443.7,310.2 444.6,308.4 445.4,306.6 446.2,304.8 447,302.9 447.8,301.1 448.6,299.3 449.4,297.4 450.2,295.6 451,293.8 451.8,291.9 452.5,290.1 453.3,288.2 454.1,286.4 454.8,284.5 455.6,282.6 456.3,280.8 457,278.9 457.7,277 458.4,275.2 459.1,273.3 459.8,271.4 460.4,269.5 461.1,267.6 461.7,265.7 462.4,263.8 463,261.9 463.7,260 464.3,258.1 464.9,256.2 465.5,254.3 466.2,252.4 466.8,250.5 467.4,248.6 467.9,246.7 468.5,244.8 469,242.9 469.5,240.9 470,239 470.5,237 471,235.1 471.5,233.2 472,231.2 472.5,229.3 473,227.3 473.5,225.4 474,223.5 474.5,221.5 475.1,219.6 475.6,217.7 476.1,215.7 476.5,213.8 477,211.8 477.5,209.9 478,208 478.5,206 479,204.1 479.5,202.2 480,200.2 480.6,198.3 481.1,196.4 481.7,194.5 482.3,192.5 482.8,190.6 483.4,188.7 484,186.8 484.7,184.9 485.3,183 485.9,181.1 486.6,179.2 487.2,177.3 487.9,175.4 488.5,173.5 489.1,171.6 489.8,169.7 490.4,167.8 491,165.9 491.7,164 492.3,162.1 493,160.3 493.7,158.4 494.4,156.5 495.2,154.7 496.1,152.9 497,151.1 497.9,149.3 498.8,147.5 499.7,145.8 500.6,144 501.5,142.2 502.4,140.4 503.3,138.6 504.2,136.8 505.1,135 506,133.3 507.1,131.6 508.2,129.9 509.4,128.4 510.7,126.9 512.1,125.5 513.6,124.2 515.3,123.1 516.9,122.1 518.7,121.2 520.6,120.6 522.5,120.1 524.4,119.8 526.4,119.6 528.4,119.7 530.3,119.9 532.3,120.3 534.2,120.8 536,121.5 537.8,122.3 539.6,123.2 541.3,124.2 543,125.3 544.7,126.4 546.3,127.5 548,128.6 549.6,129.7 551.3,130.9 552.9,132 554.6,133.1 556.2,134.3 557.9,135.4 559.5,136.6 561.1,137.7 562.7,138.9 564.3,140.2 565.8,141.5 567.4,142.7 568.9,144.1 570.4,145.4 571.9,146.6 573.5,147.9 575.1,149.1 576.7,150.3 578.3,151.5 580,152.6 581.6,153.7 583.3,154.8 585,155.8 586.7,156.9 588.4,157.9 590.2,158.9 591.9,159.9 593.7,160.8 595.4,161.7 597.2,162.7 599,163.5 600.8,164.4 602.7,165.2 604.5,166 606.3,166.8 608.2,167.5 610.1,168.2 611.9,168.9 613.8,169.6 615.7,170.2 617.7,170.7 619.6,171.2 621.5,171.7 623.5,172.1 625.5,172.5 627.4,172.8 629.4,173.1 631.4,173.4 633.4,173.7 635.4,174 637.3,174.2 639.3,174.4 641.3,174.6 643.3,174.8 645.3,174.9 647.3,175.1 649.3,175.2 651.3,175.3 653.3,175.4 655.3,175.5 657.3,175.6 659.3,175.7 661.3,175.9 663.3,176 665.3,176.1 667.3,176.2 669.3,176.3 671.3,176.4 673.3,176.6 675.3,176.7 677.3,176.8 679.3,176.9 681.3,177 683.3,177.1 685.3,177.2 687.3,177.4 689.3,177.5 691.3,177.6 693.3,177.7 695.3,177.8 697.3,178 699.3,178.1 701.2,178.2 703.2,178.3 705.2,178.5 707.2,178.6 709.2,178.8 711.2,178.9 713.2,179.1 715.2,179.3 717.2,179.4 719.2,179.6 721.2,179.8 723.2,180 725.2,180.1 727.2,180.3 729.2,180.5 731.2,180.7 733.2,180.9 735.1,181.1 737.1,181.3 739.1,181.5 741.1,181.7 743.1,182 745.1,182.2 747.1,182.4 749.1,182.6 751.1,182.9 753,183.1 755,183.4 757,183.6 759,183.9 761,184.2 763,184.4 764.9,184.7 766.9,185 768.9,185.3 770.9,185.5 772.9,185.8 774.8,186.1 776.8,186.4 778.8,186.7 780.8,187 782.8,187.3 784.7,187.6 786.7,187.9 788.7,188.2 789.7,188.3 L787.8,188.9 785.9,189.5 784,190.1 782.1,190.8 780.2,191.4 778.3,192 776.4,192.6 774.5,193.2 772.6,193.8 770.7,194.5 768.8,195.1 766.9,195.7 765,196.4 763.1,197 761.2,197.7 759.3,198.3 757.4,199 755.5,199.7 753.6,200.3 751.7,201 749.9,201.7 748,202.3 746.1,203 744.2,203.6 742.3,204.3 740.4,204.9 738.5,205.5 736.6,206.1 734.7,206.7 732.7,207.2 730.8,207.7 728.9,208.2 726.9,208.7 725,209.2 723,209.7 721.1,210.1 719.2,210.6 717.2,211.1 715.3,211.6 713.3,212.1 711.4,212.6 709.4,213.1 707.5,213.5 705.6,214 703.6,214.5 701.7,214.9 699.7,215.3 697.8,215.8 695.8,216.2 693.8,216.6 691.9,217 689.9,217.4 688,217.8 686,218.2 684,218.5 682.1,218.9 680.1,219.3 678.1,219.6 676.1,220 674.2,220.3 672.2,220.6 670.2,221 668.2,221.3 666.3,221.6 664.3,221.9 662.3,222.2 660.3,222.5 658.4,222.8 656.4,223.1 654.4,223.4 652.4,223.7 650.4,224 648.5,224.3 646.5,224.6 644.5,224.9 642.5,225.1 640.5,225.4 638.6,225.7 636.6,225.9 634.6,226.2 632.6,226.4 630.6,226.7 628.6,226.9 626.6,227.2 624.7,227.4 622.7,227.7 620.7,227.9 618.7,228.2 616.7,228.5 614.7,228.8 612.8,229.1 610.8,229.4 608.8,229.7 606.8,230 604.9,230.3 602.9,230.6 600.9,230.9 598.9,231.1 596.9,231.4 595,231.7 593,232 591,232.3 589,232.6 587,232.9 585.1,233.2 583.1,233.5 581.1,233.8 579.1,234.2 577.2,234.6 575.2,235 573.3,235.4 571.3,235.8 569.4,236.3 567.4,236.8 565.5,237.3 563.6,237.9 561.7,238.6 559.8,239.3 558,240.1 556.2,240.9 554.4,241.8 552.6,242.7 550.9,243.7 549.2,244.7 547.5,245.8 545.9,247 544.2,248.1 542.7,249.3 541.1,250.6 539.6,251.9 538.1,253.2 536.6,254.6 535.2,256 533.8,257.4 532.5,258.9 531.2,260.4 529.9,262 528.7,263.6 527.6,265.2 526.5,266.9 525.4,268.6 524.3,270.3 523.3,272 522.3,273.7 521.3,275.4 520.3,277.2 519.4,278.9 518.4,280.7 517.5,282.5 516.6,284.3 515.7,286.1 514.9,287.9 514,289.7 513.2,291.5 512.3,293.3 511.5,295.2 510.8,297 510,298.8 509.3,300.7 508.5,302.6 507.8,304.4 507.1,306.3 506.5,308.2 505.8,310.1 505.2,312 504.6,313.9 504.1,315.8 503.5,317.8 503,319.7 502.5,321.6 502.1,323.6 501.6,325.5 501.1,327.5 500.6,329.4 500.1,331.3 499.5,333.3 499,335.2 498.4,337.1 497.9,339 497.3,341 496.8,342.9 496.4,344.8 495.9,346.8 495.4,348.7 495,350.7 494.5,352.6 494.1,354.6 493.6,356.5 493.1,358.4 492.6,360.4 492,362.3 491.5,364.2 491,366.2 490.5,368.1 490,370.1 489.5,372 489,373.9 488.5,375.9 488,377.8 487.6,379.8 487.1,381.7 486.6,383.6 486.1,385.6 485.6,387.5 485,389.4 484.5,391.4 484,393.3 483.5,395.3 483,397.2 482.5,399.1 482,401.1 481.5,403 481,404.9 480.5,406.9 480,408.8 479.6,410.8 479.1,412.7 478.7,414.7 478.4,416.6 478,418.6 477.7,420.6 477.3,422.6 477,424.5 476.6,426.5 476.3,428.5 475.9,430.4 475.4,432.4 475,434.3 474.5,436.3 474,438.2 473.5,440.1 473,442.1 472.5,444 472,445.9 471.5,447.9 470.9,449.8 470.4,451.7 469.8,453.7 469.3,455.6 468.7,457.5 468.2,459.4 467.6,461.3 467,463.3 466.5,465.2 465.9,467.1 465.3,469 464.7,470.9 464.2,472.8 463.6,474.8 463,476.7 462.5,478.6 461.9,480.5 461.3,482.4 460.8,484.4 460.2,486.3 459.5,488.2 458.9,490.1 458.2,491.9 457.5,493.8 456.7,495.6 455.9,497.5 455.1,499.3 454.3,501.2 453.5,503 452.7,504.8 451.9,506.6 451.1,508.5 450.2,510.3 449.4,512.1 448.4,513.8 447.4,515.5 446.3,517.2 445.1,518.8 443.8,520.3 442.4,521.7 440.9,522.9 439.3,523.9 437.6,524.5 435.8,524.8 434,524.7 432.2,524.2 430.5,523.4 428.8,522.3 427.3,521.2 425.7,519.9 424.2,518.6 422.7,517.3 421.2,515.9 419.8,514.5 418.4,513.1 417,511.7 415.6,510.2 414.2,508.8 412.9,507.3 411.5,505.9 410.1,504.4 408.8,502.9 407.4,501.5 406,500 404.6,498.6 403.2,497.1 401.9,495.7 400.5,494.2 399.1,492.8 397.7,491.3 396.4,489.9 395,488.4 393.7,486.9 392.3,485.5 390.9,484 389.6,482.5 388.3,481 386.9,479.5 385.6,478 384.3,476.5 383,475 381.6,473.5 380.2,472.1 378.8,470.7 377.3,469.3 375.8,468 374.3,466.7 372.8,465.4 371.3,464.1 369.7,462.9 368.1,461.6 366.6,460.4 365,459.2 363.4,457.9 361.8,456.7 360.2,455.6 358.6,454.4 356.9,453.3 355.3,452.1 353.6,451 351.9,449.9 350.2,448.8 348.5,447.8 346.8,446.7 345.1,445.7 343.4,444.7 341.7,443.7 339.9,442.7 338.2,441.7 336.4,440.8 334.7,439.8 332.9,438.9 331.1,438 329.3,437.1 327.5,436.2 325.7,435.3 323.9,434.5 322.1,433.6 320.3,432.8 318.5,432 316.6,431.1 314.8,430.3 313,429.5 311.2,428.7 309.3,427.9 307.5,427.2 305.6,426.4 303.7,425.7 301.9,425 300,424.3 298.1,423.6 296.2,422.9 294.4,422.2 292.5,421.5 290.6,420.9 288.7,420.2 286.8,419.6 284.9,419 283,418.4 281.1,417.8 279.2,417.2 277.2,416.6 275.3,416 273.4,415.5 271.5,414.9 269.6,414.4 267.6,413.9 265.7,413.4 263.8,412.9 261.8,412.4 259.9,411.9 257.9,411.4 256,410.9 254,410.5 252.1,410 250.1,409.6 248.2,409.2 246.2,408.8 244.3,408.4 242.3,408 240.3,407.6 238.4,407.2 236.4,406.8 234.4,406.4 232.5,406 230.5,405.7 228.5,405.3 226.6,404.9 224.6,404.5 222.6,404.2 220.7,403.8 219.7,403.6" stroke="#84248e"/>
<path d="M219.7,399.5L221.6,399 223.5,398.4 225.5,397.9 227.4,397.3 229.3,396.8 231.2,396.2 233.2,395.7 235.1,395.1 237,394.6 238.9,394.1 240.9,393.5 242.8,393 244.7,392.4 246.7,391.9 248.6,391.4 250.5,390.9 252.4,390.3 254.4,389.8 256.3,389.3 258.2,388.7 260.2,388.2 262.1,387.6 264,387.1 265.9,386.6 267.9,386 269.8,385.5 271.7,385 273.7,384.5 275.6,384 277.5,383.5 279.5,383 281.4,382.5 283.4,382 285.3,381.6 287.2,381.1 289.2,380.7 291.2,380.3 293.1,379.9 295.1,379.5 297.1,379.2 299,378.8 301,378.5 303,378.2 304.9,377.9 306.9,377.6 308.9,377.3 310.9,377 312.9,376.7 314.8,376.4 316.8,376.1 318.8,375.8 320.8,375.5 322.8,375.2 324.7,374.9 326.7,374.6 328.7,374.3 330.6,373.9 332.6,373.6 334.6,373.2 336.6,372.9 338.5,372.5 340.5,372.1 342.4,371.7 344.4,371.3 346.4,370.9 348.3,370.5 350.3,370.1 352.2,369.7 354.2,369.3 356.1,368.9 358.1,368.4 360,368 362,367.5 363.9,367 365.9,366.5 367.8,366 369.7,365.5 371.7,364.9 373.6,364.4 375.5,363.8 377.4,363.3 379.3,362.7 381.3,362.2 383.2,361.6 385.1,361.1 387,360.5 389,360 390.9,359.4 392.8,358.8 394.7,358.2 396.6,357.5 398.4,356.7 400.2,355.9 402,355 403.8,354.1 405.5,353.1 407.2,352 408.9,350.9 410.5,349.8 412.1,348.7 413.8,347.5 415.4,346.3 417,345.1 418.5,343.8 420,342.5 421.6,341.2 423,339.9 424.5,338.5 425.9,337.1 427.2,335.6 428.6,334.1 429.8,332.6 431.1,331 432.3,329.4 433.4,327.8 434.6,326.1 435.6,324.5 436.7,322.8 437.7,321 438.7,319.3 439.6,317.5 440.6,315.8 441.5,314 442.4,312.2 443.2,310.4 444,308.6 444.9,306.7 445.7,304.9 446.5,303.1 447.3,301.3 448.1,299.4 448.9,297.6 449.7,295.8 450.5,293.9 451.3,292.1 452.1,290.2 452.8,288.4 453.6,286.5 454.3,284.7 455.1,282.8 455.8,281 456.5,279.1 457.3,277.2 458,275.4 458.7,273.5 459.3,271.6 460,269.7 460.7,267.8 461.3,266 462,264.1 462.6,262.2 463.2,260.3 463.9,258.4 464.5,256.5 465.1,254.6 465.8,252.7 466.4,250.8 467,248.9 467.6,247 468.1,245 468.7,243.1 469.2,241.2 469.7,239.2 470.2,237.3 470.7,235.4 471.2,233.4 471.7,231.5 472.1,229.5 472.7,227.6 473.2,225.7 473.7,223.7 474.2,221.8 474.7,219.9 475.2,217.9 475.7,216 476.2,214.1 476.7,212.1 477.2,210.2 477.7,208.3 478.2,206.3 478.7,204.4 479.2,202.4 479.7,200.5 480.2,198.6 480.8,196.7 481.3,194.7 481.9,192.8 482.5,190.9 483,189 483.6,187.1 484.3,185.2 484.9,183.3 485.5,181.4 486.2,179.5 486.8,177.6 487.4,175.7 488.1,173.8 488.7,171.9 489.3,170 490,168.1 490.6,166.2 491.2,164.3 491.9,162.4 492.5,160.5 493.2,158.6 493.9,156.8 494.7,154.9 495.4,153.1 496.3,151.3 497.1,149.5 498,147.7 498.9,145.9 499.8,144.1 500.7,142.3 501.6,140.5 502.5,138.7 503.4,137 504.3,135.2 505.3,133.4 506.3,131.7 507.4,130.1 508.6,128.5 509.9,127 511.3,125.6 512.8,124.3 514.4,123.1 516.1,122.1 517.8,121.3 519.7,120.6 521.6,120.2 523.5,119.9 525.5,119.8 527.5,119.8 529.4,120.1 531.4,120.5 533.3,121 535.1,121.7 536.9,122.6 538.6,123.6 540.3,124.6 541.9,125.8 543.5,127 545.1,128.1 546.7,129.3 548.3,130.5 549.9,131.7 551.5,132.9 553.1,134.1 554.7,135.3 556.3,136.5 557.9,137.7 559.5,138.9 561.1,140.1 562.7,141.3 564.3,142.5 565.9,143.7 567.5,144.9 569.1,146.1 570.7,147.4 572.3,148.6 573.9,149.7 575.5,150.9 577.2,152.1 578.8,153.2 580.4,154.4 582.1,155.5 583.8,156.6 585.5,157.7 587.2,158.7 588.9,159.8 590.6,160.8 592.3,161.9 594,162.9 595.7,163.9 597.4,164.9 599.2,165.9 600.9,166.8 602.7,167.8 604.5,168.7 606.3,169.5 608.1,170.3 610,171.1 611.8,171.8 613.7,172.5 615.6,173.1 617.6,173.6 619.5,174.1 621.4,174.6 623.4,175 625.3,175.4 627.3,175.8 629.3,176.1 631.3,176.5 633.2,176.8 635.2,177.1 637.2,177.5 639.1,177.8 641.1,178.1 643.1,178.3 645.1,178.6 647.1,178.8 649.1,178.9 651.1,179.1 653.1,179.2 655.1,179.4 657,179.5 659,179.6 661,179.8 663,179.9 665,180 667,180.1 669,180.2 671,180.3 673,180.4 675,180.5 677,180.6 679,180.7 681,180.8 683,180.9 685,180.9 687,181 689,181.1 691,181.2 693,181.3 695,181.4 697,181.5 699,181.6 701,181.7 703,181.8 705,181.9 707,182 709,182.1 711,182.2 713,182.3 715,182.5 717,182.6 719,182.8 721,182.9 723,183.1 724.9,183.2 726.9,183.4 728.9,183.6 730.9,183.7 732.9,183.9 734.9,184.1 736.9,184.2 738.9,184.4 740.9,184.6 742.9,184.8 744.9,184.9 746.9,185.1 748.9,185.3 750.9,185.5 752.8,185.6 754.8,185.8 756.8,186 758.8,186.2 760.8,186.3 762.8,186.5 764.8,186.7 766.8,186.9 768.8,187.1 770.8,187.3 772.8,187.4 774.8,187.6 776.8,187.8 778.7,188 780.7,188.2 782.7,188.4 784.7,188.5 786.7,188.7 788.7,188.9 789.7,189 L787.8,189.6 785.9,190.3 784,190.9 782.1,191.6 780.2,192.2 778.3,192.9 776.4,193.5 774.6,194.2 772.7,194.8 770.8,195.4 768.9,196.1 767,196.8 765.1,197.4 763.2,198.1 761.3,198.7 759.4,199.4 757.6,200.1 755.7,200.8 753.8,201.4 751.9,202.1 750,202.8 748.1,203.5 746.3,204.1 744.4,204.8 742.5,205.4 740.6,206.1 738.7,206.7 736.8,207.3 734.8,207.8 732.9,208.4 731,208.9 729,209.4 727.1,209.8 725.2,210.3 723.2,210.8 721.3,211.2 719.3,211.7 717.4,212.1 715.4,212.6 713.5,213.1 711.5,213.5 709.6,214 707.6,214.4 705.7,214.9 703.7,215.3 701.8,215.8 699.8,216.2 697.9,216.7 695.9,217.1 694,217.6 692,218 690.1,218.5 688.1,218.9 686.2,219.3 684.2,219.7 682.3,220.1 680.3,220.5 678.4,220.9 676.4,221.3 674.4,221.6 672.4,222 670.5,222.3 668.5,222.7 666.5,223 664.6,223.3 662.6,223.6 660.6,224 658.6,224.3 656.7,224.6 654.7,224.9 652.7,225.2 650.7,225.5 648.7,225.8 646.8,226 644.8,226.3 642.8,226.6 640.8,226.9 638.8,227.2 636.9,227.4 634.9,227.7 632.9,228 630.9,228.2 628.9,228.5 626.9,228.7 625,229 623,229.2 621,229.4 619,229.5 617,229.7 615,229.8 613,229.9 611,230 609,230.1 607,230.2 605,230.3 603,230.4 601,230.5 599,230.6 597,230.7 595,230.8 593,230.9 591,231.1 589,231.2 587,231.4 585.1,231.5 583.1,231.7 581.1,231.9 579.1,232.1 577.1,232.4 575.1,232.6 573.1,232.9 571.1,233.2 569.2,233.5 567.2,233.8 565.2,234.2 563.3,234.6 561.3,235 559.4,235.5 557.5,236.1 555.6,236.7 553.7,237.4 551.9,238.2 550.2,239.2 548.5,240.2 546.8,241.3 545.3,242.5 543.7,243.8 542.2,245.1 540.7,246.4 539.2,247.7 537.8,249.1 536.4,250.5 535,252 533.7,253.5 532.4,255 531.1,256.6 529.9,258.2 528.7,259.7 527.5,261.4 526.4,263 525.3,264.7 524.2,266.3 523.1,268 522.1,269.7 521,271.5 520,273.2 519.1,274.9 518.1,276.7 517.2,278.5 516.3,280.2 515.4,282 514.5,283.8 513.7,285.6 512.8,287.5 512,289.3 511.2,291.1 510.4,292.9 509.6,294.8 508.9,296.6 508.1,298.5 507.4,300.4 506.7,302.2 506,304.1 505.3,306 504.6,307.8 503.9,309.7 503.3,311.6 502.7,313.5 502.2,315.5 501.6,317.4 501.1,319.3 500.6,321.3 500.2,323.2 499.7,325.2 499.2,327.1 498.7,329 498.2,331 497.6,332.9 497,334.8 496.4,336.7 495.9,338.6 495.3,340.5 494.7,342.4 494.2,344.4 493.7,346.3 493.2,348.2 492.7,350.2 492.2,352.1 491.7,354.1 491.2,356 490.7,357.9 490.2,359.9 489.7,361.8 489.2,363.7 488.6,365.7 488.1,367.6 487.6,369.5 487.1,371.5 486.6,373.4 486.2,375.3 485.7,377.3 485.2,379.2 484.7,381.2 484.2,383.1 483.7,385.1 483.2,387 482.8,388.9 482.3,390.9 481.8,392.8 481.3,394.8 480.8,396.7 480.3,398.6 479.9,400.6 479.4,402.5 478.9,404.5 478.5,406.4 478,408.4 477.6,410.3 477.2,412.3 476.8,414.2 476.4,416.2 476.1,418.2 475.8,420.1 475.4,422.1 475.1,424.1 474.7,426.1 474.3,428 474,430 473.5,431.9 473.1,433.9 472.6,435.8 472.2,437.8 471.7,439.7 471.2,441.6 470.6,443.6 470.1,445.5 469.5,447.4 469,449.3 468.4,451.2 467.7,453.1 467.1,455 466.5,456.9 465.9,458.9 465.3,460.8 464.7,462.7 464.1,464.6 463.5,466.5 463,468.4 462.4,470.3 461.8,472.2 461.3,474.2 460.7,476.1 460.1,478 459.5,479.9 458.9,481.8 458.3,483.7 457.6,485.6 457,487.5 456.2,489.3 455.5,491.2 454.7,493 453.8,494.8 453,496.6 452.1,498.4 451.2,500.2 450.2,502 449.3,503.7 448.3,505.5 447.3,507.2 446.4,509 445.3,510.7 444.3,512.4 443.2,514.1 442.1,515.7 440.9,517.3 439.7,518.8 438.4,520.2 437,521.3 435.5,522 433.8,522.2 432.1,521.9 430.4,521.3 428.7,520.3 427.1,519.2 425.5,518 424,516.7 422.5,515.4 421.1,514 419.7,512.6 418.3,511.2 416.9,509.7 415.5,508.3 414.2,506.8 412.8,505.4 411.4,503.9 410.1,502.4 408.7,500.9 407.4,499.5 406.1,498 404.7,496.5 403.4,495 402.1,493.5 400.8,492 399.4,490.5 398.1,489 396.8,487.4 395.5,485.9 394.2,484.4 392.9,482.9 391.6,481.4 390.3,479.8 389.1,478.3 387.8,476.7 386.6,475.2 385.3,473.6 384,472.1 382.7,470.6 381.3,469.2 379.9,467.8 378.5,466.4 377,465 375.6,463.6 374.1,462.2 372.6,460.9 371.1,459.5 369.7,458.2 368.2,456.9 366.6,455.6 365.1,454.3 363.6,453 362,451.8 360.4,450.6 358.8,449.4 357.2,448.2 355.6,447 353.9,445.9 352.3,444.8 350.6,443.7 348.9,442.6 347.2,441.5 345.5,440.5 343.8,439.4 342.1,438.4 340.4,437.4 338.6,436.4 336.9,435.5 335.1,434.5 333.3,433.6 331.6,432.7 329.8,431.8 328,430.9 326.2,430.1 324.3,429.2 322.5,428.4 320.7,427.6 318.8,426.8 317,426.1 315.1,425.3 313.3,424.6 311.4,423.9 309.5,423.2 307.7,422.5 305.8,421.8 303.9,421.2 302,420.5 300.1,419.9 298.2,419.4 296.2,418.8 294.3,418.2 292.4,417.7 290.5,417.1 288.6,416.5 286.7,416 284.7,415.4 282.8,414.8 280.9,414.2 279,413.6 277.1,413 275.2,412.4 273.3,411.8 271.4,411.3 269.4,410.7 267.5,410.2 265.6,409.7 263.6,409.2 261.7,408.7 259.8,408.2 257.8,407.7 255.9,407.2 253.9,406.7 252,406.3 250,405.8 248.1,405.4 246.2,404.9 244.2,404.5 242.3,404 240.3,403.6 238.3,403.2 236.4,402.7 234.4,402.3 232.5,401.9 230.5,401.6 228.5,401.2 226.6,400.8 224.6,400.4 222.6,400.1 220.7,399.7 219.7,399.5" stroke="#84248e" stroke-dasharray="2.4 7.4"/>
<path d="M219.7,357.9L221.7,357.7 223.7,357.4 225.7,357.2 227.6,356.9 229.6,356.7 231.6,356.4 233.6,356.2 235.6,355.9 237.6,355.7 239.6,355.4 241.6,355.2 243.5,354.9 245.5,354.7 247.5,354.5 249.5,354.2 251.5,354 253.5,353.8 255.5,353.6 257.5,353.4 259.5,353.2 261.5,353 263.5,352.8 265.4,352.7 267.4,352.6 269.4,352.4 271.4,352.3 273.4,352.2 275.4,352.1 277.4,352 279.4,352 281.4,351.9 283.4,351.8 285.4,351.7 287.4,351.6 289.4,351.5 291.4,351.4 293.4,351.3 295.4,351.2 297.4,351.1 299.4,351 301.4,350.9 303.4,350.8 305.4,350.6 307.4,350.5 309.4,350.4 311.4,350.3 313.4,350.2 315.4,350.1 317.4,349.9 319.4,349.8 321.4,349.7 323.4,349.6 325.4,349.5 327.4,349.3 329.4,349.2 331.4,349.1 333.4,349 335.4,348.8 337.4,348.7 339.4,348.6 341.4,348.5 343.4,348.3 345.4,348.2 347.4,348.1 349.4,348 351.4,347.9 353.4,347.7 355.4,347.6 357.4,347.5 359.4,347.4 361.4,347.3 363.4,347.2 365.4,347 367.4,346.9 369.4,346.8 371.4,346.6 373.4,346.5 375.4,346.4 377.4,346.2 379.4,346 381.4,345.9 383.4,345.7 385.4,345.5 387.3,345.3 389.3,345 391.3,344.8 393.3,344.6 395.3,344.3 397.3,344.1 399.3,343.8 401.2,343.5 403.2,343.1 405.2,342.8 407.1,342.4 409.1,341.9 411,341.5 413,340.9 414.9,340.4 416.8,339.8 418.7,339.2 420.6,338.6 422.5,338 424.4,337.3 426.3,336.6 428.2,335.9 430,335.1 431.9,334.4 433.7,333.6 435.5,332.8 437.2,332 438.8,330.9 440.3,329.7 441.5,328.2 442.7,326.6 443.6,324.9 444.6,323.2 445.5,321.4 446.3,319.6 447.2,317.8 448.1,316 448.9,314.2 449.8,312.4 450.7,310.6 451.6,308.8 452.5,307 453.4,305.2 454.3,303.4 455.2,301.6 456.1,299.8 457,298.1 457.9,296.3 458.8,294.5 459.8,292.7 460.7,290.9 461.6,289.2 462.6,287.4 463.5,285.6 464.4,283.9 465.3,282.1 466.3,280.3 467.2,278.5 468.1,276.7 469,274.9 469.8,273.1 470.7,271.3 471.5,269.5 472.4,267.7 473.2,265.9 474.1,264.1 474.9,262.2 475.8,260.4 476.6,258.6 477.5,256.8 478.4,255 479.3,253.2 480.2,251.5 481.1,249.7 481.9,247.9 482.8,246.1 483.7,244.3 484.6,242.5 485.5,240.7 486.3,238.9 487.2,237.1 488.1,235.2 488.9,233.4 489.8,231.7 490.7,229.9 491.6,228.1 492.6,226.3 493.5,224.5 494.5,222.8 495.4,221 496.4,219.3 497.4,217.5 498.4,215.8 499.4,214.1 500.5,212.5 501.7,210.9 503,209.4 504.4,208 505.9,206.7 507.6,205.6 509.3,204.7 511.1,203.9 513,203.2 514.9,202.6 516.8,202.1 518.8,201.6 520.7,201.2 522.7,200.9 524.7,200.7 526.6,200.5 528.6,200.5 530.6,200.7 532.6,201 534.5,201.4 536.4,201.9 538.3,202.5 540.2,203.2 542,204 543.8,204.8 545.6,205.7 547.4,206.6 549.2,207.5 551,208.4 552.8,209.3 554.6,210.1 556.5,210.8 558.3,211.5 560.2,212.2 562.1,212.9 564,213.5 565.9,214.1 567.8,214.7 569.7,215.3 571.7,215.9 573.6,216.5 575.5,217 577.4,217.6 579.3,218.1 581.3,218.7 583.2,219.2 585.1,219.7 587.1,220.2 589,220.7 591,221.1 592.9,221.6 594.9,222 596.8,222.4 598.8,222.7 600.8,223 602.8,223.3 604.8,223.6 606.7,223.8 608.7,224.1 610.7,224.3 612.7,224.5 614.7,224.7 616.7,224.9 618.7,225 620.7,225.1 622.7,225.2 624.7,225.3 626.7,225.3 628.7,225.3 630.7,225.3 632.7,225.3 634.7,225.3 636.7,225.3 638.7,225.2 640.7,225.1 642.7,225.1 644.7,225 646.7,224.9 648.7,224.8 650.7,224.8 652.7,224.7 654.7,224.6 656.7,224.5 658.7,224.5 660.7,224.4 662.7,224.3 664.7,224.2 666.7,224.1 668.7,224 670.7,223.9 672.7,223.8 674.7,223.7 676.7,223.6 678.7,223.5 680.7,223.4 682.7,223.3 684.7,223.3 686.7,223.2 688.7,223.1 690.7,223 692.7,222.9 694.7,222.8 696.7,222.7 698.7,222.6 700.7,222.5 702.7,222.4 704.7,222.3 706.7,222.2 708.7,222.1 710.7,222 712.7,221.9 714.7,221.8 716.7,221.7 718.7,221.6 720.7,221.5 722.7,221.4 724.7,221.3 726.7,221.2 728.7,221.1 730.7,221 732.7,220.9 734.7,220.8 736.7,220.7 738.7,220.6 740.7,220.5 742.7,220.4 744.7,220.3 746.7,220.2 748.7,220.1 750.7,220 752.7,219.9 754.7,219.8 756.7,219.7 758.7,219.6 760.7,219.5 762.7,219.4 764.7,219.3 766.7,219.2 768.7,219.1 770.7,219 772.7,218.9 774.7,218.8 776.7,218.7 778.7,218.6 780.7,218.5 782.7,218.4 784.7,218.3 786.7,218.2 788.7,218.1 789.7,218 L787.7,218.2 785.7,218.4 783.7,218.6 781.7,218.8 779.7,219.1 777.8,219.3 775.8,219.5 773.8,219.7 771.8,219.9 769.8,220.1 767.8,220.3 765.8,220.5 763.8,220.7 761.8,220.9 759.8,221.1 757.8,221.3 755.8,221.5 753.9,221.7 751.9,221.8 749.9,222 747.9,222.1 745.9,222.3 743.9,222.4 741.9,222.5 739.9,222.6 737.9,222.6 735.9,222.7 733.9,222.8 731.9,222.9 729.9,222.9 727.9,223 725.9,223.1 723.9,223.3 721.9,223.4 719.9,223.5 717.9,223.7 715.9,223.9 713.9,224.1 711.9,224.3 709.9,224.5 707.9,224.8 705.9,225 704,225.2 702,225.5 700,225.7 698,225.9 696,226.2 694,226.4 692,226.7 690,226.9 688.1,227.1 686.1,227.3 684.1,227.5 682.1,227.8 680.1,228 678.1,228.2 676.1,228.4 674.1,228.6 672.1,228.8 670.1,229 668.1,229.2 666.2,229.4 664.2,229.6 662.2,229.8 660.2,230 658.2,230.2 656.2,230.5 654.2,230.7 652.2,230.9 650.2,231.2 648.3,231.4 646.3,231.7 644.3,231.9 642.3,232.2 640.3,232.5 638.3,232.7 636.3,233 634.4,233.2 632.4,233.5 630.4,233.7 628.4,234 626.4,234.2 624.4,234.5 622.4,234.7 620.5,234.9 618.5,235.1 616.5,235.4 614.5,235.6 612.5,235.8 610.5,236 608.5,236.1 606.5,236.3 604.5,236.5 602.5,236.7 600.5,237 598.5,237.2 596.6,237.4 594.6,237.7 592.6,237.9 590.6,238.2 588.6,238.4 586.6,238.7 584.6,238.9 582.7,239.2 580.7,239.4 578.7,239.6 576.7,239.9 574.7,240.1 572.7,240.3 570.7,240.6 568.7,240.8 566.8,241 564.8,241.3 562.8,241.6 560.8,241.9 558.8,242.3 556.9,242.6 554.9,243 552.9,243.4 551,243.8 549,244.2 547.1,244.6 545.1,245 543.1,245.4 541.2,245.9 539.3,246.5 537.4,247.1 535.6,247.9 533.8,248.7 532.1,249.7 530.4,250.7 528.8,251.9 527.2,253.1 525.7,254.5 524.3,255.8 522.9,257.3 521.5,258.8 520.3,260.3 519,261.9 517.8,263.5 516.7,265.1 515.6,266.8 514.6,268.5 513.6,270.2 512.6,272 511.7,273.7 510.7,275.5 509.7,277.2 508.7,278.9 507.6,280.7 506.6,282.4 505.6,284.1 504.7,285.9 503.7,287.7 502.8,289.4 501.9,291.2 501.1,293 500.3,294.9 499.5,296.7 498.7,298.5 497.9,300.4 497.2,302.2 496.5,304.1 495.8,306 495.1,307.9 494.4,309.8 493.7,311.6 493,313.5 492.3,315.4 491.6,317.3 490.9,319.1 490.1,321 489.4,322.8 488.6,324.7 487.9,326.5 487.1,328.4 486.4,330.3 485.7,332.1 485,334 484.2,335.9 483.5,337.7 482.8,339.6 482.1,341.5 481.3,343.3 480.6,345.2 479.8,347 479.1,348.9 478.3,350.7 477.5,352.6 476.7,354.4 476,356.3 475.2,358.1 474.4,360 473.6,361.8 472.8,363.6 472.1,365.5 471.3,367.3 470.5,369.2 469.8,371 469,372.9 468.2,374.7 467.4,376.6 466.7,378.4 465.9,380.3 465.1,382.1 464.2,383.9 463.4,385.7 462.5,387.5 461.5,389.2 460.5,390.9 459.4,392.6 458.2,394.2 456.9,395.7 455.5,397.2 454.1,398.6 452.6,399.9 451,401 449.3,402.1 447.6,402.9 445.8,403.6 443.9,404.1 441.9,404.4 440,404.5 438,404.5 436,404.3 434,404.1 432,403.8 430.1,403.4 428.1,403 426.2,402.5 424.3,401.9 422.4,401.2 420.6,400.4 418.8,399.5 417.1,398.5 415.3,397.6 413.6,396.6 411.9,395.5 410.2,394.5 408.4,393.5 406.7,392.5 405,391.5 403.2,390.5 401.5,389.5 399.7,388.6 398,387.6 396.2,386.7 394.4,385.8 392.6,384.9 390.8,384.1 389,383.3 387.1,382.5 385.2,381.8 383.3,381.1 381.5,380.5 379.6,379.8 377.7,379.2 375.8,378.6 373.9,377.9 372,377.3 370.1,376.7 368.1,376.2 366.2,375.6 364.3,375.1 362.3,374.6 360.4,374.1 358.5,373.7 356.5,373.2 354.5,372.8 352.6,372.4 350.6,372.1 348.6,371.7 346.7,371.4 344.7,371.2 342.7,370.9 340.7,370.7 338.7,370.5 336.7,370.3 334.7,370.1 332.7,369.9 330.7,369.8 328.7,369.6 326.7,369.5 324.7,369.3 322.7,369.2 320.7,369.1 318.8,368.9 316.8,368.8 314.8,368.7 312.8,368.6 310.8,368.5 308.8,368.5 306.8,368.4 304.8,368.3 302.8,368.3 300.8,368.2 298.8,368.2 296.7,368.1 294.7,368.1 292.7,368 290.7,368 288.7,368 286.7,368 284.7,368 282.7,368 280.7,368 278.7,368.1 276.7,368.1 274.7,368.2 272.7,368.2 270.7,368.2 268.7,368.3 266.7,368.3 264.7,368.4 262.7,368.4 260.7,368.5 258.7,368.5 256.7,368.6 254.7,368.6 252.7,368.7 250.7,368.7 248.7,368.8 246.7,368.8 244.7,368.9 242.7,368.9 240.7,369 238.7,369 236.7,369.1 234.7,369.1 232.7,369.2 230.7,369.2 228.7,369.3 226.7,369.3 224.7,369.4 222.7,369.4 220.7,369.5 219.7,369.5 M219.7,369.5L219.7,357.9" stroke="#ec2626"/>
<path d="M219.7,362L221.7,361.9 223.7,361.9 225.7,361.8 227.7,361.8 229.7,361.7 231.7,361.6 233.7,361.6 235.7,361.5 237.7,361.4 239.7,361.4 241.7,361.3 243.7,361.3 245.7,361.2 247.7,361.1 249.7,361 251.7,361 253.7,360.9 255.7,360.8 257.7,360.7 259.7,360.6 261.7,360.5 263.7,360.4 265.7,360.2 267.7,360.1 269.7,359.9 271.7,359.8 273.7,359.6 275.7,359.4 277.7,359.3 279.7,359.1 281.7,358.9 283.7,358.8 285.6,358.6 287.6,358.5 289.6,358.4 291.6,358.2 293.6,358.2 295.6,358.1 297.6,358 299.6,357.9 301.6,357.9 303.6,357.8 305.6,357.8 307.6,357.7 309.6,357.7 311.6,357.6 313.6,357.5 315.6,357.4 317.6,357.3 319.6,357.2 321.6,357 323.6,356.8 325.6,356.5 327.6,356.3 329.6,356 331.5,355.7 333.5,355.4 335.5,355.1 337.5,354.8 339.5,354.5 341.5,354.3 343.4,354.1 345.4,353.9 347.4,353.7 349.4,353.5 351.4,353.4 353.4,353.2 355.4,353 357.4,352.9 359.4,352.8 361.4,352.6 363.4,352.5 365.4,352.3 367.4,352.2 369.4,352 371.4,351.9 373.4,351.7 375.4,351.6 377.4,351.4 379.4,351.2 381.4,351.1 383.3,350.9 385.3,350.7 387.3,350.5 389.3,350.2 391.3,349.9 393.3,349.6 395.2,349.1 397.1,348.6 399,348 400.9,347.3 402.8,346.7 404.6,345.9 406.5,345.2 408.4,344.6 410.3,343.9 412.2,343.2 414,342.5 415.9,341.8 417.8,341.1 419.7,340.4 421.6,339.8 423.4,339.1 425.3,338.4 427.2,337.7 429.1,337 430.9,336.2 432.8,335.5 434.6,334.7 436.4,333.8 438.2,333 439.8,331.9 441.4,330.8 442.7,329.4 443.9,327.9 445,326.3 446,324.5 446.9,322.7 447.7,320.9 448.6,319.1 449.4,317.3 450.3,315.5 451.2,313.7 452,311.9 452.9,310.1 453.8,308.3 454.7,306.5 455.6,304.7 456.5,303 457.4,301.2 458.3,299.4 459.2,297.6 460.2,295.8 461.1,294.1 462,292.3 462.9,290.5 463.9,288.7 464.8,287 465.7,285.2 466.7,283.4 467.6,281.6 468.5,279.9 469.4,278.1 470.3,276.3 471.2,274.5 472.1,272.7 472.9,270.9 473.8,269.1 474.6,267.2 475.4,265.4 476.3,263.6 477.1,261.8 478,260 478.9,258.2 479.7,256.4 480.6,254.6 481.5,252.8 482.4,251 483.3,249.2 484.2,247.4 485,245.6 485.9,243.8 486.8,242 487.7,240.2 488.5,238.4 489.4,236.6 490.3,234.8 491.1,233 492,231.2 492.9,229.4 493.9,227.7 494.8,225.9 495.7,224.1 496.7,222.4 497.7,220.6 498.7,218.9 499.7,217.1 500.7,215.4 501.7,213.7 502.8,212 503.9,210.4 505.1,208.8 506.4,207.3 507.8,205.9 509.3,204.7 510.9,203.5 512.7,202.6 514.5,201.8 516.3,201.2 518.3,200.6 520.2,200.2 522.2,199.9 524.1,199.7 526.1,199.6 528.1,199.6 530.1,199.8 532.1,200.1 534,200.5 535.9,200.9 537.8,201.5 539.7,202.2 541.6,202.9 543.4,203.7 545.2,204.6 546.9,205.5 548.7,206.5 550.4,207.5 552.2,208.4 554,209.3 555.8,210.1 557.7,210.9 559.5,211.6 561.4,212.3 563.3,212.9 565.2,213.6 567.1,214.2 569,214.8 570.9,215.5 572.8,216.1 574.7,216.7 576.6,217.4 578.5,218 580.4,218.5 582.3,219.1 584.3,219.7 586.2,220.2 588.1,220.7 590,221.2 592,221.7 593.9,222.1 595.9,222.6 597.9,222.9 599.8,223.3 601.8,223.6 603.8,223.9 605.8,224.2 607.8,224.4 609.7,224.6 611.7,224.9 613.7,225.1 615.7,225.3 617.7,225.4 619.7,225.5 621.7,225.7 623.7,225.7 625.7,225.8 627.7,225.9 629.7,225.9 631.7,225.9 633.7,225.9 635.7,225.8 637.7,225.8 639.7,225.8 641.7,225.7 643.7,225.7 645.7,225.6 647.7,225.5 649.7,225.5 651.7,225.4 653.7,225.3 655.7,225.3 657.7,225.2 659.7,225.1 661.7,225.1 663.7,225 665.7,224.9 667.7,224.9 669.7,224.8 671.7,224.7 673.7,224.6 675.7,224.5 677.7,224.5 679.7,224.4 681.7,224.3 683.7,224.2 685.7,224.1 687.7,224 689.7,224 691.7,223.9 693.7,223.8 695.7,223.7 697.7,223.6 699.7,223.5 701.7,223.4 703.7,223.3 705.7,223.2 707.7,223.1 709.7,223 711.7,222.9 713.7,222.8 715.7,222.7 717.7,222.6 719.7,222.5 721.7,222.4 723.7,222.3 725.7,222.2 727.7,222.1 729.7,222 731.7,221.9 733.7,221.8 735.7,221.7 737.7,221.6 739.7,221.5 741.7,221.4 743.7,221.3 745.7,221.2 747.7,221.1 749.7,221 751.7,220.9 753.7,220.8 755.7,220.8 757.7,220.7 759.7,220.6 761.7,220.5 763.7,220.4 765.7,220.4 767.7,220.3 769.7,220.2 771.7,220.1 773.7,220.1 775.7,220 777.7,219.9 779.7,219.9 781.7,219.8 783.7,219.7 785.7,219.6 787.7,219.6 789.7,219.5 L787.7,219.7 785.7,220 783.7,220.2 781.7,220.5 779.8,220.7 777.8,221 775.8,221.2 773.8,221.4 771.8,221.7 769.8,221.9 767.8,222.1 765.8,222.4 763.8,222.6 761.9,222.8 759.9,223 757.9,223.2 755.9,223.4 753.9,223.6 751.9,223.8 749.9,224 747.9,224.1 745.9,224.2 743.9,224.3 741.9,224.4 739.9,224.4 737.9,224.5 735.9,224.5 733.9,224.5 731.9,224.6 729.9,224.6 727.9,224.7 725.9,224.7 723.9,224.8 721.9,224.9 719.9,225.1 717.9,225.2 715.9,225.4 713.9,225.6 711.9,225.9 709.9,226.1 707.9,226.3 706,226.6 704,226.9 702,227.1 700,227.4 698,227.7 696,227.9 694,228.2 692.1,228.4 690.1,228.7 688.1,228.9 686.1,229.1 684.1,229.3 682.1,229.5 680.1,229.7 678.1,229.9 676.1,230.1 674.1,230.2 672.1,230.4 670.1,230.6 668.1,230.8 666.1,230.9 664.1,231.1 662.2,231.3 660.2,231.5 658.2,231.7 656.2,232 654.2,232.2 652.2,232.4 650.2,232.7 648.2,233 646.2,233.2 644.3,233.5 642.3,233.7 640.3,233.9 638.3,234.2 636.3,234.4 634.3,234.6 632.3,234.8 630.3,235 628.3,235.2 626.3,235.4 624.3,235.6 622.4,235.8 620.4,236 618.4,236.2 616.4,236.4 614.4,236.5 612.4,236.7 610.4,236.9 608.4,237.1 606.4,237.3 604.4,237.5 602.4,237.8 600.4,238 598.4,238.2 596.5,238.4 594.5,238.7 592.5,238.9 590.5,239.2 588.5,239.4 586.5,239.7 584.5,239.9 582.5,240.2 580.6,240.4 578.6,240.7 576.6,240.9 574.6,241.1 572.6,241.3 570.6,241.6 568.6,241.8 566.6,242 564.6,242.3 562.7,242.6 560.7,242.9 558.7,243.3 556.7,243.6 554.8,244 552.8,244.4 550.9,244.9 548.9,245.3 547,245.8 545.1,246.3 543.1,246.9 541.2,247.6 539.4,248.3 537.5,249 535.8,249.9 534.1,251 532.5,252.1 530.9,253.4 529.5,254.7 528.1,256.1 526.7,257.6 525.3,259.1 524,260.6 522.7,262.1 521.5,263.7 520.3,265.2 519.1,266.9 518,268.5 516.9,270.2 515.8,271.9 514.8,273.6 513.8,275.3 512.8,277.1 511.7,278.8 510.7,280.5 509.7,282.2 508.7,284 507.8,285.7 506.8,287.5 505.9,289.3 505,291.1 504.2,292.9 503.3,294.7 502.5,296.5 501.7,298.4 500.9,300.2 500.2,302.1 499.4,303.9 498.6,305.8 497.9,307.6 497.2,309.5 496.4,311.3 495.7,313.2 495,315.1 494.3,317 493.6,318.8 492.9,320.7 492.2,322.6 491.5,324.5 490.8,326.4 490.1,328.2 489.4,330.1 488.7,332 488,333.9 487.3,335.7 486.6,337.6 485.9,339.5 485.1,341.3 484.4,343.2 483.7,345.1 483,347 482.3,348.8 481.6,350.7 480.9,352.6 480.2,354.5 479.5,356.3 478.8,358.2 478.1,360.1 477.3,361.9 476.6,363.8 475.9,365.7 475.2,367.5 474.4,369.4 473.7,371.3 472.9,373.1 472.1,375 471.4,376.8 470.6,378.6 469.7,380.5 468.9,382.3 468,384.1 467.1,385.9 466.2,387.6 465.2,389.4 464.1,391.1 463,392.7 461.9,394.4 460.7,396 459.4,397.5 458.1,399 456.8,400.5 455.4,402 454,403.4 452.6,404.8 451,406.1 449.5,407.3 447.8,408.3 446.1,409.3 444.3,410 442.4,410.6 440.5,410.9 438.5,411 436.6,410.9 434.6,410.7 432.6,410.4 430.7,409.9 428.8,409.4 426.9,408.7 425.1,407.9 423.3,407 421.6,406 419.8,405 418.1,404 416.4,402.9 414.8,401.8 413.1,400.7 411.4,399.6 409.7,398.5 408,397.4 406.3,396.4 404.6,395.3 402.9,394.3 401.2,393.3 399.4,392.4 397.7,391.4 395.9,390.5 394.1,389.6 392.3,388.7 390.5,387.9 388.7,387 386.8,386.2 385,385.5 383.1,384.7 381.2,384 379.4,383.3 377.5,382.6 375.6,381.9 373.7,381.2 371.9,380.5 370,379.9 368.1,379.3 366.1,378.7 364.2,378.1 362.3,377.6 360.4,377 358.4,376.5 356.5,376.1 354.5,375.6 352.6,375.2 350.6,374.8 348.6,374.5 346.7,374.1 344.7,373.8 342.7,373.5 340.7,373.2 338.7,373 336.7,372.7 334.8,372.5 332.8,372.2 330.8,372 328.8,371.8 326.8,371.6 324.8,371.4 322.8,371.2 320.8,371.1 318.8,370.9 316.8,370.8 314.8,370.7 312.8,370.6 310.8,370.5 308.8,370.4 306.8,370.3 304.8,370.3 302.8,370.2 300.8,370.2 298.8,370.1 296.8,370.1 294.8,370.1 292.8,370 290.8,370 288.8,370 286.8,370 284.8,370 282.8,370 280.8,370.1 278.8,370.1 276.8,370.1 274.8,370.2 272.8,370.2 270.8,370.3 268.8,370.3 266.8,370.4 264.8,370.4 262.8,370.4 260.8,370.5 258.8,370.5 256.7,370.5 254.7,370.6 252.7,370.6 250.7,370.6 248.7,370.6 246.7,370.7 244.7,370.7 242.7,370.7 240.7,370.7 238.7,370.8 236.7,370.8 234.7,370.8 232.7,370.8 230.7,370.9 228.7,370.9 226.7,370.9 224.7,370.9 222.7,371 220.7,371 219.7,371" stroke="#ec2626" stroke-dasharray="2.4 7.4"/>
</g></g>
<g fill="none" stroke-width="2" stroke-linejoin="round" stroke-linecap="round">
<path d="M1150.8,385.4C1152.4,384.2 1155.3,380.7 1160.2,378C1165.1,375.3 1173.7,371.9 1180.4,369.2C1187.1,366.5 1193.8,364.4 1200.6,361.8C1207.3,359.2 1214.2,356.1 1220.9,353.7C1227.7,351.3 1234.4,349.5 1241.1,347.6C1247.8,345.7 1255.7,343.7 1261.3,342.2C1266.9,340.7 1269.9,339.9 1274.8,338.4C1279.7,336.9 1286.6,334.8 1290.8,333.2C1295,331.6 1297.3,330.6 1300.2,328.5C1303.1,326.4 1305.8,323.3 1308.3,320.4C1310.8,317.5 1313,314.6 1315,311C1317,307.4 1319.1,302.3 1320.4,298.9C1321.8,295.5 1322.1,293.9 1323.1,290.8C1324.1,287.7 1325.3,284.1 1326.5,280C1327.7,275.9 1328.6,273.6 1330.2,266.2C1331.8,258.8 1334.3,245.3 1336.3,235.9C1338.3,226.5 1340.6,216.3 1342.3,209.6C1344,202.9 1344.7,200.9 1346.4,195.5C1348.1,190.1 1350.4,182.4 1352.4,177.3C1354.4,172.2 1356.5,168 1358.5,165.2C1360.5,162.3 1362.5,160.9 1364.5,160.2C1366.5,159.5 1368.6,160.1 1370.6,160.8C1372.6,161.5 1375.1,163.9 1376.7,164.2C1378.3,164.5 1379.4,161.3 1380.4,162.4C1381.4,163.5 1381.8,169.6 1382.6,170.6C1383.4,171.6 1383,168.4 1385,168.2C1387,168 1391.5,169.6 1394.8,169.4C1398.1,169.2 1402,168 1404.9,167.2C1407.8,166.3 1407.9,165.8 1412.1,164.3C1416.3,162.8 1423.2,159.4 1430.3,158.2C1437.4,157 1447.5,156.9 1454.6,157C1461.7,157.1 1465.7,158 1472.8,158.8C1479.9,159.6 1490,161 1497.1,161.8C1504.2,162.6 1511.2,163.3 1515.3,163.7C1519.3,164.1 1519.2,164.6 1521.4,164.3C1523.6,164 1526.6,162.9 1528.6,161.8C1530.6,160.7 1532.5,159.7 1533.5,157.6C1534.5,155.5 1534.5,150.5 1534.7,149.1 M1534.7,149.1C1534.7,150.6 1535.1,155.3 1534.7,158.2C1534.3,161.1 1533.5,164.1 1532.3,166.7C1531.1,169.3 1530.2,171.6 1527.4,174C1524.6,176.4 1520.3,178.8 1515.3,181.3C1510.2,183.8 1504.2,186.6 1497.1,189.2C1490,191.8 1480.9,194.5 1472.8,197C1464.7,199.5 1455.6,202.2 1448.5,204.3C1441.4,206.4 1436.4,207.9 1430.3,209.8C1424.2,211.7 1417.1,214.1 1412.1,215.6C1407.1,217.1 1404,217.6 1400.5,218.8C1397,220 1393.8,221.1 1390.8,222.8C1387.8,224.5 1385.4,225.9 1382.7,228.8C1380,231.7 1376.9,235.8 1374.6,240C1372.2,244.2 1370.3,249 1368.6,254.1C1366.9,259.1 1365.5,266 1364.5,270.3C1363.5,274.6 1363.5,276.1 1362.9,280C1362.3,283.9 1361.7,289 1360.9,293.5C1360.1,298 1359.1,302.1 1358.2,307C1357.3,311.9 1356.4,317.5 1355.5,323.1C1354.6,328.7 1353.7,334.3 1352.8,340.6C1351.9,346.9 1351,354.3 1350.1,360.9C1349.2,367.5 1348.3,374.6 1347.5,380C1346.7,385.4 1346.2,388.6 1345.5,393.5C1344.8,398.4 1344.3,404 1343.5,409.6C1342.7,415.2 1341.8,421.4 1340.8,427.2C1339.8,433 1338.7,439.3 1337.4,444.7C1336.2,450.1 1334.9,455.4 1333.3,459.5C1331.7,463.6 1329.8,468.5 1328,469.6C1326.2,470.7 1324.6,469.1 1322.6,466.3C1320.6,463.5 1318,457.5 1315.8,452.8C1313.5,448.1 1311.3,442.1 1309.1,438C1306.8,433.9 1305,431.6 1302.3,428.5C1299.6,425.4 1296,421.9 1292.9,419.1C1289.8,416.3 1287.3,413.8 1283.5,411.7C1279.7,409.6 1276,408.1 1270,406.3C1264,404.5 1256,402.7 1247.8,400.9C1239.6,399.1 1229.9,397.2 1220.9,395.5C1211.9,393.8 1202.9,392.3 1193.9,390.8C1184.9,389.3 1174,387.5 1167,386.7C1160,385.9 1154.8,386.2 1152.1,386C1149.4,385.8 1151,385.5 1150.8,385.4 M1342.3,209.6L1342.6,199.8L1343,207" stroke="#474747"/>
<path d="M1356.1,378.2C1357.3,377.7 1360,376.9 1363.5,375.3C1367,373.7 1372.5,370.5 1377,368.5C1381.5,366.5 1385.9,364.7 1390.4,363.1C1394.9,361.5 1399.4,360.8 1403.9,359.1C1408.4,357.4 1412.9,354.8 1417.4,353C1421.9,351.2 1426.4,349.5 1430.9,348.3C1435.4,347.1 1439.8,346.6 1444.3,345.6C1448.8,344.6 1453.3,343.3 1457.8,342.2C1462.3,341.1 1466.8,340.1 1471.3,338.9C1475.8,337.7 1480,336.7 1484.8,334.8C1489.6,332.9 1495.2,330.6 1500,327.6C1504.8,324.6 1510.1,320.4 1513.5,316.8C1516.9,313.2 1518.3,309.8 1520.2,306C1522.1,302.2 1523.3,298.4 1524.9,293.9C1526.5,289.4 1528.1,284.5 1529.6,279.1C1531.1,273.7 1532.5,266.5 1533.7,261.6C1534.9,256.8 1535.6,255.4 1536.7,250C1537.8,244.6 1539.1,236.1 1540.4,228.9C1541.8,221.7 1543.6,212.6 1544.8,206.7C1546,200.8 1546.8,197.2 1547.8,193.3C1548.8,189.4 1549.5,186.7 1550.7,183C1551.9,179.3 1553.7,174.8 1555.2,171.1C1556.7,167.4 1557.9,163.5 1559.6,160.7C1561.3,157.9 1563.6,155.7 1565.6,154.5C1567.6,153.3 1569.5,153.4 1571.5,153.6C1573.5,153.8 1575.9,155.3 1577.4,155.6C1578.9,155.9 1580,155.9 1580.6,155.6C1581.2,155.3 1580.9,153.3 1581.2,153.8C1581.5,154.3 1581.4,157.4 1582.2,158.6C1583,159.8 1584.4,160 1586.3,160.7C1588.2,161.4 1591.2,162.6 1593.7,163C1596.2,163.4 1598.4,163.5 1601.1,163.4C1603.8,163.3 1606.8,162.8 1610,162.2C1613.2,161.6 1616.3,160.6 1620,159.9C1623.7,159.2 1628,158 1632.1,158C1636.1,158 1639.2,159.3 1644.3,159.9C1649.4,160.5 1656.4,161.2 1662.5,161.7C1668.6,162.2 1674.6,162.4 1680.7,162.9C1686.8,163.4 1692.8,164.2 1698.9,164.7C1705,165.2 1712.7,165.9 1717.1,165.9C1721.5,165.9 1723.1,165.4 1725.5,164.7C1727.9,164 1729.8,163.4 1731.6,161.7C1733.4,160 1735.1,157.2 1736.5,154.4C1737.9,151.6 1739.5,146.3 1740.1,144.7 M1740.1,144.7C1740.2,146.1 1741.1,150.6 1740.7,153.2C1740.3,155.8 1739.2,158.5 1737.7,160.5C1736.2,162.5 1734,163.9 1731.6,165.3C1729.2,166.7 1726.5,167.6 1723.1,169C1719.7,170.4 1716,171.9 1711,173.8C1706,175.7 1698.9,178.1 1692.8,180.5C1686.7,182.9 1680.7,185.9 1674.6,188.4C1668.5,190.9 1662.5,193.3 1656.4,195.7C1650.3,198.1 1644.3,200.5 1638.2,202.9C1632.1,205.3 1625.2,208.2 1620,210.2C1614.8,212.2 1611.1,213.2 1607,214.8C1602.9,216.4 1598.7,217.9 1595.2,220C1591.8,222.1 1589,224.4 1586.3,227.4C1583.6,230.4 1580.9,234 1578.9,237.8C1576.9,241.6 1575.9,245.8 1574.4,250C1572.9,254.2 1571.5,257.8 1570.1,262.9C1568.7,268 1567.1,275.2 1566,280.4C1564.9,285.6 1564.2,288.7 1563.3,293.9C1562.4,299.1 1561.5,305.4 1560.6,311.4C1559.6,317.4 1558.5,323.5 1557.6,330C1556.7,336.5 1556.1,343.5 1555.2,350.2C1554.3,356.9 1553.4,363.7 1552.4,370.4C1551.4,377.1 1550.3,383.9 1549.3,390.6C1548.3,397.3 1547.3,404.1 1546.2,410.8C1545.1,417.5 1543.5,424.9 1542.4,431C1541.3,437.1 1540.6,442.5 1539.4,447.2C1538.2,451.9 1536.8,456.2 1535.4,459.3C1534.1,462.4 1532.8,465.8 1531.3,465.8C1529.8,465.8 1528.1,462.4 1526.3,459.3C1524.5,456.2 1522.2,451.6 1520.2,447.2C1518.2,442.8 1516.1,437.1 1514.1,433C1512.1,428.9 1510.4,426.3 1508.1,422.9C1505.8,419.4 1502.8,415.4 1500,412.3C1497.2,409.2 1494,406.3 1491.5,404.2C1489,402.1 1488.2,401.3 1484.8,399.5C1481.4,397.7 1475.8,395.3 1471.3,393.5C1466.8,391.7 1462.3,390.1 1457.8,388.7C1453.3,387.3 1448.8,386.4 1444.3,385.4C1439.8,384.4 1435.4,383.5 1430.9,382.7C1426.4,381.9 1421.9,381.2 1417.4,380.6C1412.9,380 1408.4,379.7 1403.9,379.3C1399.4,378.9 1394.9,378.3 1390.4,378C1385.9,377.7 1381.5,377.4 1377,377.3C1372.5,377.2 1367,377.6 1363.5,377.7C1360,377.8 1357.3,378.1 1356.1,378.2 M1547.8,193.3L1548.2,186L1548.6,195 M1356.1,376L1356.1,380.6" stroke="#fd3434"/>
</g>
</svg></body></html>
